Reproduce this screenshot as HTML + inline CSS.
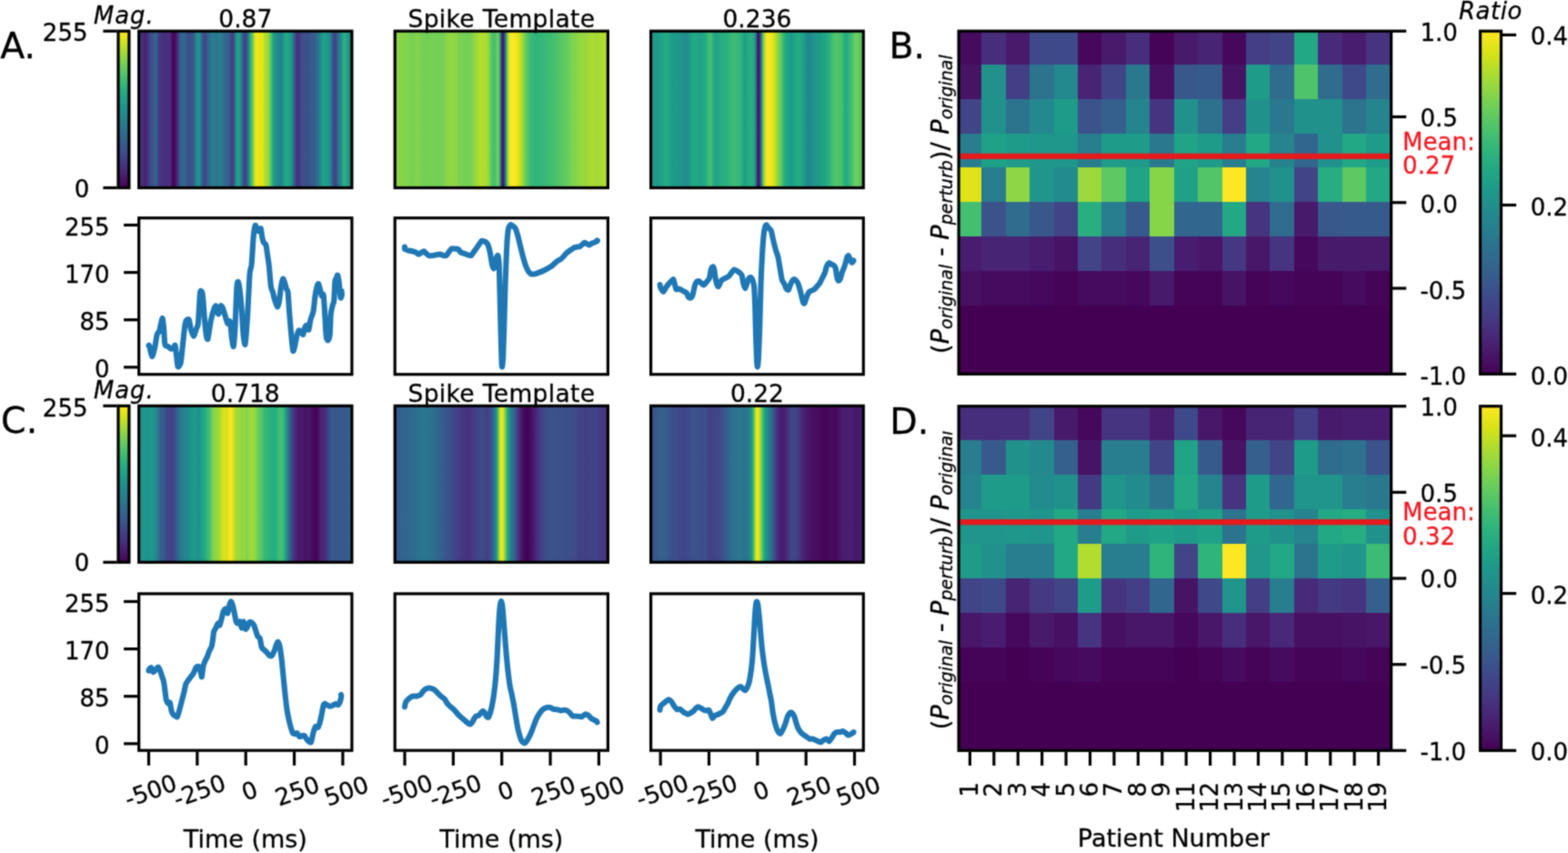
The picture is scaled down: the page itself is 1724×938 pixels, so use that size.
<!DOCTYPE html>
<html lang="en">
<head>
<meta charset="utf-8">
<title>Spike template perturbation figure</title>
<style>
html,body{margin:0;padding:0;background:#fff;}
body{width:1724px;height:938px;overflow:hidden;}
svg{display:block;}
svg text{font-family:'DejaVu Sans', 'Liberation Sans', sans-serif;fill:#000;stroke:#000;stroke-width:0.3px;stroke-linejoin:round;}
</style>
</head>
<body>
<svg width="1724" height="938" viewBox="0 0 1724 938">
<defs>
<linearGradient id="vir" x1="0" y1="1" x2="0" y2="0"><stop offset="0%" stop-color="#440154"/><stop offset="3.12%" stop-color="#470d60"/><stop offset="6.25%" stop-color="#48186a"/><stop offset="9.38%" stop-color="#482374"/><stop offset="12.5%" stop-color="#472d7b"/><stop offset="15.62%" stop-color="#453781"/><stop offset="18.75%" stop-color="#424086"/><stop offset="21.88%" stop-color="#3e4989"/><stop offset="25%" stop-color="#3b528b"/><stop offset="28.12%" stop-color="#375b8d"/><stop offset="31.25%" stop-color="#33638d"/><stop offset="34.38%" stop-color="#2f6b8e"/><stop offset="37.5%" stop-color="#2c728e"/><stop offset="40.62%" stop-color="#297a8e"/><stop offset="43.75%" stop-color="#26828e"/><stop offset="46.88%" stop-color="#23898e"/><stop offset="50%" stop-color="#21918c"/><stop offset="53.12%" stop-color="#1f988b"/><stop offset="56.25%" stop-color="#1fa088"/><stop offset="59.38%" stop-color="#22a785"/><stop offset="62.5%" stop-color="#28ae80"/><stop offset="65.62%" stop-color="#32b67a"/><stop offset="68.75%" stop-color="#3fbc73"/><stop offset="71.88%" stop-color="#4ec36b"/><stop offset="75%" stop-color="#5ec962"/><stop offset="78.12%" stop-color="#70cf57"/><stop offset="81.25%" stop-color="#84d44b"/><stop offset="84.38%" stop-color="#98d83e"/><stop offset="87.5%" stop-color="#addc30"/><stop offset="90.62%" stop-color="#c2df23"/><stop offset="93.75%" stop-color="#d8e219"/><stop offset="96.88%" stop-color="#ece51b"/><stop offset="100%" stop-color="#fde725"/></linearGradient>
<filter id="soft" filterUnits="userSpaceOnUse" x="-20" y="-20" width="1764" height="978" color-interpolation-filters="sRGB"><feConvolveMatrix order="3" kernelMatrix="40 120 40 120 360 120 40 120 40" divisor="1000" edgeMode="duplicate" preserveAlpha="true"/></filter>
<linearGradient id="gA1" x1="0" y1="0" x2="1" y2="0"><stop offset="0%" stop-color="#453581"/><stop offset="0.84%" stop-color="#463480"/><stop offset="1.68%" stop-color="#472f7d"/><stop offset="2.52%" stop-color="#482173"/><stop offset="3.36%" stop-color="#482475"/><stop offset="4.2%" stop-color="#46327e"/><stop offset="5.04%" stop-color="#404688"/><stop offset="5.88%" stop-color="#3c508b"/><stop offset="6.72%" stop-color="#39568c"/><stop offset="7.56%" stop-color="#32658e"/><stop offset="8.4%" stop-color="#34618d"/><stop offset="9.24%" stop-color="#433d84"/><stop offset="10.08%" stop-color="#453581"/><stop offset="10.92%" stop-color="#46337f"/><stop offset="11.76%" stop-color="#472f7d"/><stop offset="12.61%" stop-color="#472e7c"/><stop offset="13.45%" stop-color="#472f7d"/><stop offset="14.29%" stop-color="#463480"/><stop offset="15.13%" stop-color="#482071"/><stop offset="15.97%" stop-color="#450457"/><stop offset="16.81%" stop-color="#46085c"/><stop offset="17.65%" stop-color="#481b6d"/><stop offset="18.49%" stop-color="#443b84"/><stop offset="19.33%" stop-color="#375a8c"/><stop offset="20.17%" stop-color="#31668e"/><stop offset="21.01%" stop-color="#31678e"/><stop offset="21.85%" stop-color="#33628d"/><stop offset="22.69%" stop-color="#3a548c"/><stop offset="23.53%" stop-color="#3e4c8a"/><stop offset="24.37%" stop-color="#3d4e8a"/><stop offset="25.21%" stop-color="#39568c"/><stop offset="26.05%" stop-color="#34608d"/><stop offset="26.89%" stop-color="#23888e"/><stop offset="27.73%" stop-color="#1f988b"/><stop offset="28.57%" stop-color="#218e8d"/><stop offset="29.41%" stop-color="#306a8e"/><stop offset="30.25%" stop-color="#3d4d8a"/><stop offset="31.09%" stop-color="#404588"/><stop offset="31.93%" stop-color="#39568c"/><stop offset="32.77%" stop-color="#30698e"/><stop offset="33.61%" stop-color="#2c738e"/><stop offset="34.45%" stop-color="#297b8e"/><stop offset="35.29%" stop-color="#277f8e"/><stop offset="36.13%" stop-color="#2b758e"/><stop offset="36.97%" stop-color="#2a778e"/><stop offset="37.82%" stop-color="#277f8e"/><stop offset="38.66%" stop-color="#297b8e"/><stop offset="39.5%" stop-color="#2c738e"/><stop offset="40.34%" stop-color="#306a8e"/><stop offset="41.18%" stop-color="#33628d"/><stop offset="42.02%" stop-color="#32648e"/><stop offset="42.86%" stop-color="#3a538b"/><stop offset="43.7%" stop-color="#443b84"/><stop offset="44.54%" stop-color="#3f4889"/><stop offset="45.38%" stop-color="#26818e"/><stop offset="46.22%" stop-color="#20a486"/><stop offset="47.06%" stop-color="#1fa088"/><stop offset="47.9%" stop-color="#24868e"/><stop offset="48.74%" stop-color="#355f8d"/><stop offset="49.58%" stop-color="#424086"/><stop offset="50.42%" stop-color="#3e4989"/><stop offset="51.26%" stop-color="#2c738e"/><stop offset="52.1%" stop-color="#22a785"/><stop offset="52.94%" stop-color="#44bf70"/><stop offset="53.78%" stop-color="#8ed645"/><stop offset="54.62%" stop-color="#e2e418"/><stop offset="55.46%" stop-color="#f6e620"/><stop offset="56.3%" stop-color="#eae51a"/><stop offset="57.14%" stop-color="#e5e419"/><stop offset="57.98%" stop-color="#ece51b"/><stop offset="58.82%" stop-color="#c0df25"/><stop offset="59.66%" stop-color="#aadc32"/><stop offset="60.5%" stop-color="#a0da39"/><stop offset="61.34%" stop-color="#73d056"/><stop offset="62.18%" stop-color="#46c06f"/><stop offset="63.03%" stop-color="#20a386"/><stop offset="63.87%" stop-color="#1f988b"/><stop offset="64.71%" stop-color="#218e8d"/><stop offset="65.55%" stop-color="#25858e"/><stop offset="66.39%" stop-color="#277f8e"/><stop offset="67.23%" stop-color="#24878e"/><stop offset="68.07%" stop-color="#1e9c89"/><stop offset="68.91%" stop-color="#24aa83"/><stop offset="69.75%" stop-color="#23a983"/><stop offset="70.59%" stop-color="#1fa188"/><stop offset="71.43%" stop-color="#1f998a"/><stop offset="72.27%" stop-color="#287c8e"/><stop offset="73.11%" stop-color="#38588c"/><stop offset="73.95%" stop-color="#453781"/><stop offset="74.79%" stop-color="#472f7d"/><stop offset="75.63%" stop-color="#433e85"/><stop offset="76.47%" stop-color="#3e4c8a"/><stop offset="77.31%" stop-color="#3a538b"/><stop offset="78.15%" stop-color="#3b528b"/><stop offset="78.99%" stop-color="#3c4f8a"/><stop offset="79.83%" stop-color="#3b528b"/><stop offset="80.67%" stop-color="#365c8d"/><stop offset="81.51%" stop-color="#365c8d"/><stop offset="82.35%" stop-color="#38588c"/><stop offset="83.19%" stop-color="#31688e"/><stop offset="84.03%" stop-color="#2d718e"/><stop offset="84.87%" stop-color="#277f8e"/><stop offset="85.71%" stop-color="#1f948c"/><stop offset="86.55%" stop-color="#1fa188"/><stop offset="87.39%" stop-color="#1fa287"/><stop offset="88.24%" stop-color="#1f998a"/><stop offset="89.08%" stop-color="#20928c"/><stop offset="89.92%" stop-color="#23898e"/><stop offset="90.76%" stop-color="#355f8d"/><stop offset="91.6%" stop-color="#414487"/><stop offset="92.44%" stop-color="#404588"/><stop offset="93.28%" stop-color="#32648e"/><stop offset="94.12%" stop-color="#287d8e"/><stop offset="94.96%" stop-color="#24868e"/><stop offset="95.8%" stop-color="#25ab82"/><stop offset="96.64%" stop-color="#2cb17e"/><stop offset="97.48%" stop-color="#24aa83"/><stop offset="98.32%" stop-color="#20928c"/><stop offset="99.16%" stop-color="#20938c"/><stop offset="100%" stop-color="#1f988b"/></linearGradient>
<linearGradient id="gA2" x1="0" y1="0" x2="1" y2="0"><stop offset="0%" stop-color="#98d83e"/><stop offset="0.84%" stop-color="#90d743"/><stop offset="1.68%" stop-color="#8bd646"/><stop offset="2.52%" stop-color="#89d548"/><stop offset="3.36%" stop-color="#86d549"/><stop offset="4.2%" stop-color="#86d549"/><stop offset="5.04%" stop-color="#84d44b"/><stop offset="5.88%" stop-color="#81d34d"/><stop offset="6.72%" stop-color="#7fd34e"/><stop offset="7.56%" stop-color="#7ad151"/><stop offset="8.4%" stop-color="#77d153"/><stop offset="9.24%" stop-color="#7cd250"/><stop offset="10.08%" stop-color="#81d34d"/><stop offset="10.92%" stop-color="#84d44b"/><stop offset="11.76%" stop-color="#7cd250"/><stop offset="12.61%" stop-color="#77d153"/><stop offset="13.45%" stop-color="#73d056"/><stop offset="14.29%" stop-color="#73d056"/><stop offset="15.13%" stop-color="#73d056"/><stop offset="15.97%" stop-color="#73d056"/><stop offset="16.81%" stop-color="#75d054"/><stop offset="17.65%" stop-color="#75d054"/><stop offset="18.49%" stop-color="#77d153"/><stop offset="19.33%" stop-color="#75d054"/><stop offset="20.17%" stop-color="#73d056"/><stop offset="21.01%" stop-color="#73d056"/><stop offset="21.85%" stop-color="#73d056"/><stop offset="22.69%" stop-color="#77d153"/><stop offset="23.53%" stop-color="#81d34d"/><stop offset="24.37%" stop-color="#8bd646"/><stop offset="25.21%" stop-color="#90d743"/><stop offset="26.05%" stop-color="#90d743"/><stop offset="26.89%" stop-color="#90d743"/><stop offset="27.73%" stop-color="#8ed645"/><stop offset="28.57%" stop-color="#8bd646"/><stop offset="29.41%" stop-color="#81d34d"/><stop offset="30.25%" stop-color="#7cd250"/><stop offset="31.09%" stop-color="#7cd250"/><stop offset="31.93%" stop-color="#77d153"/><stop offset="32.77%" stop-color="#75d054"/><stop offset="33.61%" stop-color="#73d056"/><stop offset="34.45%" stop-color="#73d056"/><stop offset="35.29%" stop-color="#75d054"/><stop offset="36.13%" stop-color="#81d34d"/><stop offset="36.97%" stop-color="#8bd646"/><stop offset="37.82%" stop-color="#95d840"/><stop offset="38.66%" stop-color="#a0da39"/><stop offset="39.5%" stop-color="#aadc32"/><stop offset="40.34%" stop-color="#b5de2b"/><stop offset="41.18%" stop-color="#b2dd2d"/><stop offset="42.02%" stop-color="#b0dd2f"/><stop offset="42.86%" stop-color="#aadc32"/><stop offset="43.7%" stop-color="#9bd93c"/><stop offset="44.54%" stop-color="#7cd250"/><stop offset="45.38%" stop-color="#54c568"/><stop offset="46.22%" stop-color="#44bf70"/><stop offset="47.06%" stop-color="#48c16e"/><stop offset="47.9%" stop-color="#69cd5b"/><stop offset="48.74%" stop-color="#63cb5f"/><stop offset="49.58%" stop-color="#25848e"/><stop offset="50.42%" stop-color="#460b5e"/><stop offset="51.26%" stop-color="#472e7c"/><stop offset="52.1%" stop-color="#1f958b"/><stop offset="52.94%" stop-color="#8bd646"/><stop offset="53.78%" stop-color="#eae51a"/><stop offset="54.62%" stop-color="#fde725"/><stop offset="55.46%" stop-color="#fde725"/><stop offset="56.3%" stop-color="#f8e621"/><stop offset="57.14%" stop-color="#f1e51d"/><stop offset="57.98%" stop-color="#dfe318"/><stop offset="58.82%" stop-color="#c5e021"/><stop offset="59.66%" stop-color="#a5db36"/><stop offset="60.5%" stop-color="#86d549"/><stop offset="61.34%" stop-color="#69cd5b"/><stop offset="62.18%" stop-color="#54c568"/><stop offset="63.03%" stop-color="#44bf70"/><stop offset="63.87%" stop-color="#3aba76"/><stop offset="64.71%" stop-color="#34b679"/><stop offset="65.55%" stop-color="#31b57b"/><stop offset="66.39%" stop-color="#31b57b"/><stop offset="67.23%" stop-color="#31b57b"/><stop offset="68.07%" stop-color="#32b67a"/><stop offset="68.91%" stop-color="#34b679"/><stop offset="69.75%" stop-color="#37b878"/><stop offset="70.59%" stop-color="#38b977"/><stop offset="71.43%" stop-color="#3aba76"/><stop offset="72.27%" stop-color="#3dbc74"/><stop offset="73.11%" stop-color="#3fbc73"/><stop offset="73.95%" stop-color="#42be71"/><stop offset="74.79%" stop-color="#44bf70"/><stop offset="75.63%" stop-color="#48c16e"/><stop offset="76.47%" stop-color="#4ec36b"/><stop offset="77.31%" stop-color="#54c568"/><stop offset="78.15%" stop-color="#58c765"/><stop offset="78.99%" stop-color="#5cc863"/><stop offset="79.83%" stop-color="#60ca60"/><stop offset="80.67%" stop-color="#65cb5e"/><stop offset="81.51%" stop-color="#6ccd5a"/><stop offset="82.35%" stop-color="#73d056"/><stop offset="83.19%" stop-color="#7cd250"/><stop offset="84.03%" stop-color="#81d34d"/><stop offset="84.87%" stop-color="#86d549"/><stop offset="85.71%" stop-color="#8bd646"/><stop offset="86.55%" stop-color="#90d743"/><stop offset="87.39%" stop-color="#95d840"/><stop offset="88.24%" stop-color="#98d83e"/><stop offset="89.08%" stop-color="#98d83e"/><stop offset="89.92%" stop-color="#9bd93c"/><stop offset="90.76%" stop-color="#a0da39"/><stop offset="91.6%" stop-color="#a5db36"/><stop offset="92.44%" stop-color="#addc30"/><stop offset="93.28%" stop-color="#a8db34"/><stop offset="94.12%" stop-color="#a5db36"/><stop offset="94.96%" stop-color="#a2da37"/><stop offset="95.8%" stop-color="#a8db34"/><stop offset="96.64%" stop-color="#aadc32"/><stop offset="97.48%" stop-color="#addc30"/><stop offset="98.32%" stop-color="#b2dd2d"/><stop offset="99.16%" stop-color="#b5de2b"/><stop offset="100%" stop-color="#b8de29"/></linearGradient>
<linearGradient id="gA3" x1="0" y1="0" x2="1" y2="0"><stop offset="0%" stop-color="#20a386"/><stop offset="0.84%" stop-color="#1fa188"/><stop offset="1.68%" stop-color="#1f9e89"/><stop offset="2.52%" stop-color="#1f998a"/><stop offset="3.36%" stop-color="#1e9b8a"/><stop offset="4.2%" stop-color="#1f9f88"/><stop offset="5.04%" stop-color="#1fa287"/><stop offset="5.88%" stop-color="#21a685"/><stop offset="6.72%" stop-color="#23a983"/><stop offset="7.56%" stop-color="#25ab82"/><stop offset="8.4%" stop-color="#22a785"/><stop offset="9.24%" stop-color="#1e9d89"/><stop offset="10.08%" stop-color="#1e9c89"/><stop offset="10.92%" stop-color="#1e9c89"/><stop offset="11.76%" stop-color="#1e9b8a"/><stop offset="12.61%" stop-color="#1f998a"/><stop offset="13.45%" stop-color="#1f988b"/><stop offset="14.29%" stop-color="#1f968b"/><stop offset="15.13%" stop-color="#20928c"/><stop offset="15.97%" stop-color="#218e8d"/><stop offset="16.81%" stop-color="#228d8d"/><stop offset="17.65%" stop-color="#20928c"/><stop offset="18.49%" stop-color="#1f9e89"/><stop offset="19.33%" stop-color="#21a585"/><stop offset="20.17%" stop-color="#23a983"/><stop offset="21.01%" stop-color="#23a983"/><stop offset="21.85%" stop-color="#22a785"/><stop offset="22.69%" stop-color="#20a486"/><stop offset="23.53%" stop-color="#20a386"/><stop offset="24.37%" stop-color="#21a685"/><stop offset="25.21%" stop-color="#24aa83"/><stop offset="26.05%" stop-color="#27ad81"/><stop offset="26.89%" stop-color="#3aba76"/><stop offset="27.73%" stop-color="#44bf70"/><stop offset="28.57%" stop-color="#3fbc73"/><stop offset="29.41%" stop-color="#26ad81"/><stop offset="30.25%" stop-color="#20a386"/><stop offset="31.09%" stop-color="#20a386"/><stop offset="31.93%" stop-color="#22a884"/><stop offset="32.77%" stop-color="#25ac82"/><stop offset="33.61%" stop-color="#27ad81"/><stop offset="34.45%" stop-color="#28ae80"/><stop offset="35.29%" stop-color="#2ab07f"/><stop offset="36.13%" stop-color="#2db27d"/><stop offset="36.97%" stop-color="#32b67a"/><stop offset="37.82%" stop-color="#37b878"/><stop offset="38.66%" stop-color="#3dbc74"/><stop offset="39.5%" stop-color="#3bbb75"/><stop offset="40.34%" stop-color="#3aba76"/><stop offset="41.18%" stop-color="#37b878"/><stop offset="42.02%" stop-color="#32b67a"/><stop offset="42.86%" stop-color="#2ab07f"/><stop offset="43.7%" stop-color="#20a386"/><stop offset="44.54%" stop-color="#1f9f88"/><stop offset="45.38%" stop-color="#22a785"/><stop offset="46.22%" stop-color="#27ad81"/><stop offset="47.06%" stop-color="#29af7f"/><stop offset="47.9%" stop-color="#26ad81"/><stop offset="48.74%" stop-color="#1fa287"/><stop offset="49.58%" stop-color="#32658e"/><stop offset="50.42%" stop-color="#460a5d"/><stop offset="51.26%" stop-color="#472c7a"/><stop offset="52.1%" stop-color="#228b8d"/><stop offset="52.94%" stop-color="#69cd5b"/><stop offset="53.78%" stop-color="#d0e11c"/><stop offset="54.62%" stop-color="#f8e621"/><stop offset="55.46%" stop-color="#fbe723"/><stop offset="56.3%" stop-color="#f1e51d"/><stop offset="57.14%" stop-color="#eae51a"/><stop offset="57.98%" stop-color="#d2e21b"/><stop offset="58.82%" stop-color="#b0dd2f"/><stop offset="59.66%" stop-color="#90d743"/><stop offset="60.5%" stop-color="#7ad151"/><stop offset="61.34%" stop-color="#5cc863"/><stop offset="62.18%" stop-color="#3bbb75"/><stop offset="63.03%" stop-color="#26ad81"/><stop offset="63.87%" stop-color="#22a785"/><stop offset="64.71%" stop-color="#1fa188"/><stop offset="65.55%" stop-color="#1e9d89"/><stop offset="66.39%" stop-color="#1e9b8a"/><stop offset="67.23%" stop-color="#1fa287"/><stop offset="68.07%" stop-color="#22a884"/><stop offset="68.91%" stop-color="#25ac82"/><stop offset="69.75%" stop-color="#25ac82"/><stop offset="70.59%" stop-color="#22a884"/><stop offset="71.43%" stop-color="#1fa287"/><stop offset="72.27%" stop-color="#1f998a"/><stop offset="73.11%" stop-color="#218e8d"/><stop offset="73.95%" stop-color="#25848e"/><stop offset="74.79%" stop-color="#24878e"/><stop offset="75.63%" stop-color="#218f8d"/><stop offset="76.47%" stop-color="#1f958b"/><stop offset="77.31%" stop-color="#1f988b"/><stop offset="78.15%" stop-color="#1f9a8a"/><stop offset="78.99%" stop-color="#1e9b8a"/><stop offset="79.83%" stop-color="#1e9d89"/><stop offset="80.67%" stop-color="#1fa188"/><stop offset="81.51%" stop-color="#20a386"/><stop offset="82.35%" stop-color="#22a785"/><stop offset="83.19%" stop-color="#26ad81"/><stop offset="84.03%" stop-color="#2db27d"/><stop offset="84.87%" stop-color="#37b878"/><stop offset="85.71%" stop-color="#48c16e"/><stop offset="86.55%" stop-color="#50c46a"/><stop offset="87.39%" stop-color="#52c569"/><stop offset="88.24%" stop-color="#4ec36b"/><stop offset="89.08%" stop-color="#4cc26c"/><stop offset="89.92%" stop-color="#44bf70"/><stop offset="90.76%" stop-color="#2eb37c"/><stop offset="91.6%" stop-color="#25ab82"/><stop offset="92.44%" stop-color="#26ad81"/><stop offset="93.28%" stop-color="#31b57b"/><stop offset="94.12%" stop-color="#3fbc73"/><stop offset="94.96%" stop-color="#4ec36b"/><stop offset="95.8%" stop-color="#65cb5e"/><stop offset="96.64%" stop-color="#70cf57"/><stop offset="97.48%" stop-color="#65cb5e"/><stop offset="98.32%" stop-color="#58c765"/><stop offset="99.16%" stop-color="#5cc863"/><stop offset="100%" stop-color="#5ec962"/></linearGradient>
<linearGradient id="gC1" x1="0" y1="0" x2="1" y2="0"><stop offset="0%" stop-color="#20938c"/><stop offset="0.84%" stop-color="#1f948c"/><stop offset="1.68%" stop-color="#1f978b"/><stop offset="2.52%" stop-color="#1f978b"/><stop offset="3.36%" stop-color="#20928c"/><stop offset="4.2%" stop-color="#20938c"/><stop offset="5.04%" stop-color="#1f968b"/><stop offset="5.88%" stop-color="#1f998a"/><stop offset="6.72%" stop-color="#1f948c"/><stop offset="7.56%" stop-color="#228d8d"/><stop offset="8.4%" stop-color="#25848e"/><stop offset="9.24%" stop-color="#2b748e"/><stop offset="10.08%" stop-color="#34618d"/><stop offset="10.92%" stop-color="#375b8d"/><stop offset="11.76%" stop-color="#365c8d"/><stop offset="12.61%" stop-color="#3d4e8a"/><stop offset="13.45%" stop-color="#404688"/><stop offset="14.29%" stop-color="#414287"/><stop offset="15.13%" stop-color="#424186"/><stop offset="15.97%" stop-color="#414487"/><stop offset="16.81%" stop-color="#3c4f8a"/><stop offset="17.65%" stop-color="#365c8d"/><stop offset="18.49%" stop-color="#31678e"/><stop offset="19.33%" stop-color="#2c738e"/><stop offset="20.17%" stop-color="#277e8e"/><stop offset="21.01%" stop-color="#26828e"/><stop offset="21.85%" stop-color="#24868e"/><stop offset="22.69%" stop-color="#238a8d"/><stop offset="23.53%" stop-color="#218e8d"/><stop offset="24.37%" stop-color="#20928c"/><stop offset="25.21%" stop-color="#1f998a"/><stop offset="26.05%" stop-color="#1f9a8a"/><stop offset="26.89%" stop-color="#1f988b"/><stop offset="27.73%" stop-color="#218e8d"/><stop offset="28.57%" stop-color="#1f958b"/><stop offset="29.41%" stop-color="#1fa188"/><stop offset="30.25%" stop-color="#22a785"/><stop offset="31.09%" stop-color="#26ad81"/><stop offset="31.93%" stop-color="#31b57b"/><stop offset="32.77%" stop-color="#3aba76"/><stop offset="33.61%" stop-color="#50c46a"/><stop offset="34.45%" stop-color="#77d153"/><stop offset="35.29%" stop-color="#84d44b"/><stop offset="36.13%" stop-color="#95d840"/><stop offset="36.97%" stop-color="#93d741"/><stop offset="37.82%" stop-color="#a2da37"/><stop offset="38.66%" stop-color="#c2df23"/><stop offset="39.5%" stop-color="#d5e21a"/><stop offset="40.34%" stop-color="#dde318"/><stop offset="41.18%" stop-color="#cde11d"/><stop offset="42.02%" stop-color="#eae51a"/><stop offset="42.86%" stop-color="#fde725"/><stop offset="43.7%" stop-color="#f1e51d"/><stop offset="44.54%" stop-color="#d0e11c"/><stop offset="45.38%" stop-color="#aadc32"/><stop offset="46.22%" stop-color="#9bd93c"/><stop offset="47.06%" stop-color="#9dd93b"/><stop offset="47.9%" stop-color="#95d840"/><stop offset="48.74%" stop-color="#8bd646"/><stop offset="49.58%" stop-color="#9bd93c"/><stop offset="50.42%" stop-color="#7fd34e"/><stop offset="51.26%" stop-color="#89d548"/><stop offset="52.1%" stop-color="#9bd93c"/><stop offset="52.94%" stop-color="#9dd93b"/><stop offset="53.78%" stop-color="#98d83e"/><stop offset="54.62%" stop-color="#90d743"/><stop offset="55.46%" stop-color="#7ad151"/><stop offset="56.3%" stop-color="#65cb5e"/><stop offset="57.14%" stop-color="#5cc863"/><stop offset="57.98%" stop-color="#4cc26c"/><stop offset="58.82%" stop-color="#38b977"/><stop offset="59.66%" stop-color="#34b679"/><stop offset="60.5%" stop-color="#2fb47c"/><stop offset="61.34%" stop-color="#2cb17e"/><stop offset="62.18%" stop-color="#28ae80"/><stop offset="63.03%" stop-color="#26ad81"/><stop offset="63.87%" stop-color="#27ad81"/><stop offset="64.71%" stop-color="#2eb37c"/><stop offset="65.55%" stop-color="#3aba76"/><stop offset="66.39%" stop-color="#46c06f"/><stop offset="67.23%" stop-color="#44bf70"/><stop offset="68.07%" stop-color="#31b57b"/><stop offset="68.91%" stop-color="#1fa088"/><stop offset="69.75%" stop-color="#25838e"/><stop offset="70.59%" stop-color="#31688e"/><stop offset="71.43%" stop-color="#3c4f8a"/><stop offset="72.27%" stop-color="#433d84"/><stop offset="73.11%" stop-color="#472e7c"/><stop offset="73.95%" stop-color="#482173"/><stop offset="74.79%" stop-color="#481b6d"/><stop offset="75.63%" stop-color="#481a6c"/><stop offset="76.47%" stop-color="#481b6d"/><stop offset="77.31%" stop-color="#481769"/><stop offset="78.15%" stop-color="#471365"/><stop offset="78.99%" stop-color="#481467"/><stop offset="79.83%" stop-color="#481668"/><stop offset="80.67%" stop-color="#471365"/><stop offset="81.51%" stop-color="#460b5e"/><stop offset="82.35%" stop-color="#46075a"/><stop offset="83.19%" stop-color="#450457"/><stop offset="84.03%" stop-color="#460b5e"/><stop offset="84.87%" stop-color="#481d6f"/><stop offset="85.71%" stop-color="#482878"/><stop offset="86.55%" stop-color="#482979"/><stop offset="87.39%" stop-color="#472c7a"/><stop offset="88.24%" stop-color="#453581"/><stop offset="89.08%" stop-color="#404688"/><stop offset="89.92%" stop-color="#39558c"/><stop offset="90.76%" stop-color="#375b8d"/><stop offset="91.6%" stop-color="#38598c"/><stop offset="92.44%" stop-color="#39568c"/><stop offset="93.28%" stop-color="#39558c"/><stop offset="94.12%" stop-color="#39568c"/><stop offset="94.96%" stop-color="#38588c"/><stop offset="95.8%" stop-color="#375a8c"/><stop offset="96.64%" stop-color="#38598c"/><stop offset="97.48%" stop-color="#38588c"/><stop offset="98.32%" stop-color="#355e8d"/><stop offset="99.16%" stop-color="#31688e"/><stop offset="100%" stop-color="#2f6b8e"/></linearGradient>
<linearGradient id="gC2" x1="0" y1="0" x2="1" y2="0"><stop offset="0%" stop-color="#3a548c"/><stop offset="0.84%" stop-color="#38598c"/><stop offset="1.68%" stop-color="#365d8d"/><stop offset="2.52%" stop-color="#34618d"/><stop offset="3.36%" stop-color="#32648e"/><stop offset="4.2%" stop-color="#31668e"/><stop offset="5.04%" stop-color="#31678e"/><stop offset="5.88%" stop-color="#31688e"/><stop offset="6.72%" stop-color="#31688e"/><stop offset="7.56%" stop-color="#31688e"/><stop offset="8.4%" stop-color="#306a8e"/><stop offset="9.24%" stop-color="#2f6b8e"/><stop offset="10.08%" stop-color="#2e6f8e"/><stop offset="10.92%" stop-color="#2c718e"/><stop offset="11.76%" stop-color="#2b748e"/><stop offset="12.61%" stop-color="#2b758e"/><stop offset="13.45%" stop-color="#2a768e"/><stop offset="14.29%" stop-color="#2b758e"/><stop offset="15.13%" stop-color="#2b748e"/><stop offset="15.97%" stop-color="#2c738e"/><stop offset="16.81%" stop-color="#2c718e"/><stop offset="17.65%" stop-color="#2e6f8e"/><stop offset="18.49%" stop-color="#2f6c8e"/><stop offset="19.33%" stop-color="#30698e"/><stop offset="20.17%" stop-color="#31668e"/><stop offset="21.01%" stop-color="#32648e"/><stop offset="21.85%" stop-color="#34608d"/><stop offset="22.69%" stop-color="#375b8d"/><stop offset="23.53%" stop-color="#38588c"/><stop offset="24.37%" stop-color="#3a548c"/><stop offset="25.21%" stop-color="#3b528b"/><stop offset="26.05%" stop-color="#3c4f8a"/><stop offset="26.89%" stop-color="#3e4c8a"/><stop offset="27.73%" stop-color="#3f4788"/><stop offset="28.57%" stop-color="#414487"/><stop offset="29.41%" stop-color="#424086"/><stop offset="30.25%" stop-color="#433d84"/><stop offset="31.09%" stop-color="#443a83"/><stop offset="31.93%" stop-color="#453781"/><stop offset="32.77%" stop-color="#463480"/><stop offset="33.61%" stop-color="#46327e"/><stop offset="34.45%" stop-color="#46307e"/><stop offset="35.29%" stop-color="#463480"/><stop offset="36.13%" stop-color="#443a83"/><stop offset="36.97%" stop-color="#423f85"/><stop offset="37.82%" stop-color="#414287"/><stop offset="38.66%" stop-color="#414287"/><stop offset="39.5%" stop-color="#3f4788"/><stop offset="40.34%" stop-color="#3e4a89"/><stop offset="41.18%" stop-color="#3e4a89"/><stop offset="42.02%" stop-color="#404688"/><stop offset="42.86%" stop-color="#424086"/><stop offset="43.7%" stop-color="#424086"/><stop offset="44.54%" stop-color="#3f4889"/><stop offset="45.38%" stop-color="#39558c"/><stop offset="46.22%" stop-color="#31678e"/><stop offset="47.06%" stop-color="#277e8e"/><stop offset="47.9%" stop-color="#1fa187"/><stop offset="48.74%" stop-color="#7ad151"/><stop offset="49.58%" stop-color="#e7e419"/><stop offset="50.42%" stop-color="#f6e620"/><stop offset="51.26%" stop-color="#b2dd2d"/><stop offset="52.1%" stop-color="#58c765"/><stop offset="52.94%" stop-color="#22a884"/><stop offset="53.78%" stop-color="#218e8d"/><stop offset="54.62%" stop-color="#29798e"/><stop offset="55.46%" stop-color="#2f6c8e"/><stop offset="56.3%" stop-color="#355e8d"/><stop offset="57.14%" stop-color="#3e4a89"/><stop offset="57.98%" stop-color="#453581"/><stop offset="58.82%" stop-color="#482374"/><stop offset="59.66%" stop-color="#481467"/><stop offset="60.5%" stop-color="#460a5d"/><stop offset="61.34%" stop-color="#450457"/><stop offset="62.18%" stop-color="#440256"/><stop offset="63.03%" stop-color="#46075a"/><stop offset="63.87%" stop-color="#470e61"/><stop offset="64.71%" stop-color="#481769"/><stop offset="65.55%" stop-color="#481f70"/><stop offset="66.39%" stop-color="#482979"/><stop offset="67.23%" stop-color="#46337f"/><stop offset="68.07%" stop-color="#443b84"/><stop offset="68.91%" stop-color="#414287"/><stop offset="69.75%" stop-color="#3f4788"/><stop offset="70.59%" stop-color="#3e4c8a"/><stop offset="71.43%" stop-color="#3c4f8a"/><stop offset="72.27%" stop-color="#3b518b"/><stop offset="73.11%" stop-color="#3b528b"/><stop offset="73.95%" stop-color="#3a538b"/><stop offset="74.79%" stop-color="#3a538b"/><stop offset="75.63%" stop-color="#3b528b"/><stop offset="76.47%" stop-color="#3c508b"/><stop offset="77.31%" stop-color="#3c508b"/><stop offset="78.15%" stop-color="#3c4f8a"/><stop offset="78.99%" stop-color="#3c4f8a"/><stop offset="79.83%" stop-color="#3d4e8a"/><stop offset="80.67%" stop-color="#3d4d8a"/><stop offset="81.51%" stop-color="#3d4e8a"/><stop offset="82.35%" stop-color="#3d4e8a"/><stop offset="83.19%" stop-color="#3d4d8a"/><stop offset="84.03%" stop-color="#3e4c8a"/><stop offset="84.87%" stop-color="#3e4989"/><stop offset="85.71%" stop-color="#404588"/><stop offset="86.55%" stop-color="#424186"/><stop offset="87.39%" stop-color="#424186"/><stop offset="88.24%" stop-color="#424186"/><stop offset="89.08%" stop-color="#424186"/><stop offset="89.92%" stop-color="#424086"/><stop offset="90.76%" stop-color="#424086"/><stop offset="91.6%" stop-color="#424186"/><stop offset="92.44%" stop-color="#414487"/><stop offset="93.28%" stop-color="#404588"/><stop offset="94.12%" stop-color="#414487"/><stop offset="94.96%" stop-color="#424186"/><stop offset="95.8%" stop-color="#433d84"/><stop offset="96.64%" stop-color="#443b84"/><stop offset="97.48%" stop-color="#443983"/><stop offset="98.32%" stop-color="#453882"/><stop offset="99.16%" stop-color="#453581"/><stop offset="100%" stop-color="#463480"/></linearGradient>
<linearGradient id="gC3" x1="0" y1="0" x2="1" y2="0"><stop offset="0%" stop-color="#3d4e8a"/><stop offset="0.84%" stop-color="#3b528b"/><stop offset="1.68%" stop-color="#39568c"/><stop offset="2.52%" stop-color="#375a8c"/><stop offset="3.36%" stop-color="#365c8d"/><stop offset="4.2%" stop-color="#355f8d"/><stop offset="5.04%" stop-color="#34618d"/><stop offset="5.88%" stop-color="#34618d"/><stop offset="6.72%" stop-color="#355f8d"/><stop offset="7.56%" stop-color="#375b8d"/><stop offset="8.4%" stop-color="#39558c"/><stop offset="9.24%" stop-color="#3b518b"/><stop offset="10.08%" stop-color="#3c4f8a"/><stop offset="10.92%" stop-color="#3c508b"/><stop offset="11.76%" stop-color="#3d4e8a"/><stop offset="12.61%" stop-color="#3e4c8a"/><stop offset="13.45%" stop-color="#3e4989"/><stop offset="14.29%" stop-color="#3f4788"/><stop offset="15.13%" stop-color="#404688"/><stop offset="15.97%" stop-color="#3f4788"/><stop offset="16.81%" stop-color="#3f4889"/><stop offset="17.65%" stop-color="#3e4a89"/><stop offset="18.49%" stop-color="#3d4e8a"/><stop offset="19.33%" stop-color="#3b528b"/><stop offset="20.17%" stop-color="#3a538b"/><stop offset="21.01%" stop-color="#3a538b"/><stop offset="21.85%" stop-color="#3b528b"/><stop offset="22.69%" stop-color="#3c508b"/><stop offset="23.53%" stop-color="#3d4e8a"/><stop offset="24.37%" stop-color="#3d4d8a"/><stop offset="25.21%" stop-color="#3d4e8a"/><stop offset="26.05%" stop-color="#3d4d8a"/><stop offset="26.89%" stop-color="#404588"/><stop offset="27.73%" stop-color="#433e85"/><stop offset="28.57%" stop-color="#424186"/><stop offset="29.41%" stop-color="#414487"/><stop offset="30.25%" stop-color="#404588"/><stop offset="31.09%" stop-color="#404688"/><stop offset="31.93%" stop-color="#3f4889"/><stop offset="32.77%" stop-color="#3e4a89"/><stop offset="33.61%" stop-color="#3c4f8a"/><stop offset="34.45%" stop-color="#3a548c"/><stop offset="35.29%" stop-color="#375a8c"/><stop offset="36.13%" stop-color="#34618d"/><stop offset="36.97%" stop-color="#31678e"/><stop offset="37.82%" stop-color="#2f6c8e"/><stop offset="38.66%" stop-color="#2d708e"/><stop offset="39.5%" stop-color="#2c728e"/><stop offset="40.34%" stop-color="#2b758e"/><stop offset="41.18%" stop-color="#2a778e"/><stop offset="42.02%" stop-color="#2a788e"/><stop offset="42.86%" stop-color="#2b758e"/><stop offset="43.7%" stop-color="#2c738e"/><stop offset="44.54%" stop-color="#2c738e"/><stop offset="45.38%" stop-color="#2a788e"/><stop offset="46.22%" stop-color="#26818e"/><stop offset="47.06%" stop-color="#21908d"/><stop offset="47.9%" stop-color="#24aa83"/><stop offset="48.74%" stop-color="#77d153"/><stop offset="49.58%" stop-color="#e5e419"/><stop offset="50.42%" stop-color="#f6e620"/><stop offset="51.26%" stop-color="#bddf26"/><stop offset="52.1%" stop-color="#69cd5b"/><stop offset="52.94%" stop-color="#31b57b"/><stop offset="53.78%" stop-color="#1fa088"/><stop offset="54.62%" stop-color="#218f8d"/><stop offset="55.46%" stop-color="#26818e"/><stop offset="56.3%" stop-color="#2c728e"/><stop offset="57.14%" stop-color="#32658e"/><stop offset="57.98%" stop-color="#3c508b"/><stop offset="58.82%" stop-color="#433d84"/><stop offset="59.66%" stop-color="#472e7c"/><stop offset="60.5%" stop-color="#482374"/><stop offset="61.34%" stop-color="#481c6e"/><stop offset="62.18%" stop-color="#481b6d"/><stop offset="63.03%" stop-color="#482173"/><stop offset="63.87%" stop-color="#472a7a"/><stop offset="64.71%" stop-color="#46337f"/><stop offset="65.55%" stop-color="#423f85"/><stop offset="66.39%" stop-color="#404688"/><stop offset="67.23%" stop-color="#3f4889"/><stop offset="68.07%" stop-color="#3f4788"/><stop offset="68.91%" stop-color="#424186"/><stop offset="69.75%" stop-color="#453882"/><stop offset="70.59%" stop-color="#472d7b"/><stop offset="71.43%" stop-color="#482475"/><stop offset="72.27%" stop-color="#481f70"/><stop offset="73.11%" stop-color="#481b6d"/><stop offset="73.95%" stop-color="#481769"/><stop offset="74.79%" stop-color="#481467"/><stop offset="75.63%" stop-color="#471164"/><stop offset="76.47%" stop-color="#470e61"/><stop offset="77.31%" stop-color="#470d60"/><stop offset="78.15%" stop-color="#470d60"/><stop offset="78.99%" stop-color="#460b5e"/><stop offset="79.83%" stop-color="#460a5d"/><stop offset="80.67%" stop-color="#46075a"/><stop offset="81.51%" stop-color="#450559"/><stop offset="82.35%" stop-color="#450457"/><stop offset="83.19%" stop-color="#46075a"/><stop offset="84.03%" stop-color="#460a5d"/><stop offset="84.87%" stop-color="#470d60"/><stop offset="85.71%" stop-color="#460b5e"/><stop offset="86.55%" stop-color="#46075a"/><stop offset="87.39%" stop-color="#460b5e"/><stop offset="88.24%" stop-color="#471164"/><stop offset="89.08%" stop-color="#48186a"/><stop offset="89.92%" stop-color="#481c6e"/><stop offset="90.76%" stop-color="#481d6f"/><stop offset="91.6%" stop-color="#481d6f"/><stop offset="92.44%" stop-color="#481f70"/><stop offset="93.28%" stop-color="#482071"/><stop offset="94.12%" stop-color="#481f70"/><stop offset="94.96%" stop-color="#481c6e"/><stop offset="95.8%" stop-color="#481a6c"/><stop offset="96.64%" stop-color="#481769"/><stop offset="97.48%" stop-color="#48186a"/><stop offset="98.32%" stop-color="#481b6d"/><stop offset="99.16%" stop-color="#481d6f"/><stop offset="100%" stop-color="#481c6e"/></linearGradient>
<clipPath id="clipD"><rect x="990" y="476.8" width="80" height="400"/><rect x="1036.4" y="473.5" width="40" height="3.8"/></clipPath>
</defs>
<rect width="1724" height="938" fill="#fff"/>
<g filter="url(#soft)">
<rect x="-20" y="-20" width="1764" height="978" fill="#fff"/>
<rect x="152.7" y="34.2" width="234.2" height="172.3" fill="url(#gA1)" stroke="#000" stroke-width="3.2"/>
<text x="269.8" y="29.5" font-size="26.5" text-anchor="middle">0.87</text>
<rect x="152.7" y="239.7" width="234.2" height="172" fill="none" stroke="#000" stroke-width="3.2"/>
<path d="M163.54 379.92C163.62 379.97 163.75 378.91 164.18 380.32C164.61 381.74 166.51 391.89 167.22 392.07C167.93 392.26 169.62 384.78 170.26 381.94C170.9 379.11 172.1 369.89 172.69 367.76C173.28 365.64 174.66 365.79 175.32 363.71C175.99 361.63 177.82 350.41 178.36 349.94C178.91 349.46 179.63 356.28 179.98 359.66C180.34 363.04 180.83 376.42 181.4 378.91C181.97 381.39 184.14 380.41 184.85 380.93C185.56 381.45 186.82 383.13 187.48 383.36C188.14 383.6 189.93 383.36 190.52 382.96C191.11 382.56 192.12 378.86 192.54 379.92C192.97 380.98 193.81 389.36 194.17 392.07C194.52 394.79 195.06 402.39 195.58 403.22C196.1 404.04 198.03 401.65 198.62 399.17C199.21 396.68 200.13 386.55 200.65 381.94C201.17 377.34 202.61 363.09 203.08 359.66C203.55 356.23 204.16 353.51 204.7 352.57C205.24 351.62 207.15 350.49 207.74 351.56C208.33 352.62 209.17 359.56 209.76 361.69C210.36 363.81 212.09 369.79 212.8 369.79C213.51 369.79 215.25 363.34 215.84 361.69C216.43 360.03 217.4 360.1 217.87 355.61C218.34 351.12 219.49 327.33 219.89 323.19C220.3 319.06 220.96 319.92 221.31 320.15C221.67 320.39 222.51 321.56 222.93 325.22C223.36 328.88 224.49 346.36 224.96 351.56C225.43 356.76 226.58 367.31 226.99 369.79C227.39 372.27 228.05 373.54 228.4 372.83C228.76 372.12 229.6 366.19 230.02 363.71C230.45 361.23 231.46 354.27 232.05 351.56C232.64 348.84 234.45 342.19 235.09 340.41C235.73 338.64 236.93 335.77 237.52 336.36C238.11 336.95 239.54 345.48 240.15 345.48C240.77 345.48 242.2 337.07 242.79 336.36C243.38 335.65 244.58 337.86 245.22 339.4C245.86 340.94 247.67 347.64 248.26 349.53C248.85 351.42 249.74 355.14 250.28 355.61C250.83 356.08 252.37 351.69 252.92 353.58C253.46 355.47 254.49 368.62 254.94 371.82C255.39 375.01 256.36 382.11 256.77 380.93C257.17 379.75 257.96 369.37 258.39 361.69C258.81 354 259.99 321.12 260.41 315.09C260.84 309.06 261.68 309.79 262.03 310.02C262.39 310.26 263.05 313.92 263.45 317.12C263.85 320.31 265.01 331.47 265.48 337.37C265.95 343.28 267.03 362.92 267.5 367.76C267.98 372.61 269.1 379.62 269.53 378.91C269.96 378.2 270.8 366.29 271.15 361.69C271.51 357.08 272.17 346.49 272.57 339.4C272.97 332.31 274.12 306.58 274.59 300.91C275.07 295.24 276.15 295.51 276.62 290.78C277.09 286.05 278.17 265.4 278.65 260.39C279.12 255.38 280.2 248.77 280.67 247.83C281.15 246.88 282.23 251.53 282.7 252.29C283.17 253.04 284.25 254.43 284.72 254.31C285.2 254.19 286.35 250.56 286.75 251.27C287.15 251.98 287.81 258.62 288.17 260.39C288.52 262.16 289.29 265.4 289.79 266.47C290.29 267.53 291.95 268.09 292.42 269.51C292.9 270.92 293.44 275.9 293.84 278.62C294.24 281.34 295.39 288.55 295.87 292.8C296.34 297.06 297.42 311.78 297.89 315.09C298.37 318.4 299.45 319.51 299.92 321.17C300.39 322.82 301.35 327.38 301.94 329.27C302.54 331.16 304.39 337.14 304.98 337.37C305.57 337.61 306.54 333.9 307.01 331.3C307.48 328.7 308.56 317.97 309.04 315.09C309.51 312.21 310.59 307.05 311.06 306.58C311.53 306.11 312.61 309.69 313.09 311.04C313.56 312.38 314.71 316.95 315.11 318.13C315.52 319.31 316.18 318.21 316.53 321.17C316.89 324.12 317.73 338.02 318.15 343.45C318.58 348.89 319.71 362.8 320.18 367.76C320.65 372.73 321.73 384.58 322.2 386C322.68 387.41 323.76 381.81 324.23 379.92C324.7 378.03 325.78 371.68 326.26 369.79C326.73 367.9 327.69 364.3 328.28 363.71C328.87 363.12 330.73 364.25 331.32 364.72C331.91 365.2 332.87 368.35 333.35 367.76C333.82 367.17 334.9 360.84 335.37 359.66C335.85 358.48 336.93 357.28 337.4 357.63C337.87 357.99 338.95 363.41 339.42 362.7C339.9 361.99 340.86 353.92 341.45 351.56C342.04 349.19 343.9 345.51 344.49 342.44C345.08 339.37 346.04 328.41 346.52 325.22C346.99 322.03 348.12 316.63 348.54 315.09C348.97 313.55 349.74 311.58 350.16 312.05C350.59 312.52 351.79 317.6 352.19 319.14C352.59 320.68 353.2 324.63 353.61 325.22C354.01 325.81 355.23 322.08 355.63 324.21C356.03 326.33 356.7 338.13 357.05 343.45C357.4 348.77 358.25 366.2 358.67 369.79C359.1 373.38 360.22 374.48 360.7 374.25C361.17 374.01 362.37 371.12 362.72 367.76C363.08 364.41 363.38 349.26 363.74 345.48C364.09 341.7 365.36 337 365.76 335.35C366.16 333.69 366.87 334.37 367.18 331.3C367.49 328.22 368.09 311.97 368.4 309.01C368.7 306.06 369.48 306.73 369.81 305.97C370.14 305.22 370.88 301.94 371.23 302.53C371.59 303.12 372.47 308.15 372.85 311.04C373.23 313.92 374.12 325.71 374.47 327.24C374.83 328.78 375.77 325.03 375.89 324.21C376.01 323.38 375.56 320.63 375.52 320.15" fill="none" stroke="#1f77b4" stroke-width="6.1" stroke-linejoin="round" stroke-linecap="round"/>
<rect x="434.2" y="34.2" width="234.2" height="172.3" fill="url(#gA2)" stroke="#000" stroke-width="3.2"/>
<text x="551.47" y="29.5" font-size="26.5" text-anchor="middle" letter-spacing="0.35">Spike Template</text>
<rect x="434.2" y="239.7" width="234.2" height="172" fill="none" stroke="#000" stroke-width="3.2"/>
<path d="M444.96 271.53C444.99 271.84 444.69 273.69 445.19 274.17C445.69 274.64 448.3 275.35 449.25 275.58C450.19 275.82 452.35 275.95 453.3 276.19C454.24 276.43 456.52 277.21 457.35 277.61C458.18 278.01 459.68 279.64 460.39 279.64C461.1 279.64 462.77 278.01 463.43 277.61C464.09 277.21 465.47 276.07 466.06 276.19C466.65 276.31 467.85 278.06 468.49 278.62C469.13 279.19 470.7 280.77 471.53 281.05C472.36 281.34 474.64 281.15 475.58 281.05C476.53 280.96 478.69 280.41 479.64 280.24C480.58 280.08 482.74 279.54 483.69 279.64C484.63 279.73 486.91 280.89 487.74 281.05C488.57 281.22 490.07 281.57 490.78 281.05C491.49 280.53 493.16 277.47 493.82 276.6C494.48 275.72 495.74 273.91 496.45 273.56C497.16 273.2 499.02 273.49 499.89 273.56C500.77 273.63 503.17 273.69 503.95 274.17C504.73 274.64 505.87 277.09 506.58 277.61C507.29 278.13 509.15 278.32 510.02 278.62C510.9 278.93 513.13 279.96 514.08 280.24C515.02 280.53 517.3 281.48 518.13 281.05C518.96 280.63 520.46 277.59 521.17 276.6C521.88 275.6 523.5 273.54 524.21 272.54C524.91 271.55 526.61 268.99 527.24 268.09C527.88 267.19 529.08 265.15 529.68 264.85C530.27 264.54 531.7 265.22 532.31 265.45C532.92 265.69 534.4 266.28 534.94 266.87C535.49 267.46 536.5 269.15 536.97 270.52C537.44 271.89 538.52 276.26 539 278.62C539.47 280.99 540.57 288.84 541.02 290.78C541.47 292.72 542.44 295 542.84 295.24C543.25 295.47 544.11 294.15 544.47 292.8C544.82 291.46 545.53 285.06 545.88 283.69C546.24 282.32 547.17 280.23 547.5 281.05C547.83 281.88 548.48 286.1 548.72 290.78C548.96 295.46 549.32 312.89 549.53 321.17C549.74 329.44 550.31 352.7 550.54 361.69C550.78 370.67 551.37 393.31 551.56 398.15C551.75 403 551.97 403.93 552.16 403.22C552.35 402.51 552.94 396.92 553.18 392.07C553.41 387.23 553.91 371.14 554.19 361.69C554.47 352.23 555.25 321.67 555.61 311.04C555.96 300.4 556.85 277.37 557.23 270.52C557.61 263.66 558.45 254.93 558.85 252.29C559.25 249.64 560.29 248.42 560.67 247.83C561.05 247.24 561.69 247.13 562.09 247.22C562.49 247.31 563.57 248.17 564.12 248.64C564.66 249.11 566.14 250.02 566.75 251.27C567.36 252.52 568.79 257.25 569.38 259.38C569.98 261.5 571.18 266.91 571.82 269.51C572.45 272.11 574.15 279.06 574.85 281.66C575.56 284.26 577.18 289.83 577.89 291.79C578.6 293.75 580.22 297.37 580.93 298.48C581.64 299.59 583.14 300.98 583.97 301.31C584.8 301.64 587.08 301.48 588.02 301.31C588.97 301.15 591.01 300.3 592.07 299.89C593.14 299.49 595.96 298.41 597.14 297.87C598.32 297.33 601.14 295.83 602.2 295.24C603.27 294.64 605.31 293.51 606.26 292.8C607.2 292.09 609.48 289.87 610.31 289.16C611.14 288.45 612.64 287.2 613.35 286.73C614.06 286.25 615.68 285.63 616.39 285.11C617.09 284.59 618.72 283.03 619.42 282.27C620.13 281.51 621.75 279.33 622.46 278.62C623.17 277.91 624.79 276.71 625.5 276.19C626.21 275.67 627.83 274.64 628.54 274.17C629.25 273.69 630.87 272.45 631.58 272.14C632.29 271.83 633.91 271.67 634.62 271.53C635.33 271.39 636.95 271.28 637.66 270.92C638.37 270.57 640.11 268.97 640.7 268.49C641.29 268.02 642.2 266.92 642.72 266.87C643.24 266.82 644.56 267.78 645.15 268.09C645.74 268.39 647.13 269.58 647.79 269.51C648.45 269.43 650.12 267.83 650.83 267.48C651.54 267.13 653.16 266.77 653.87 266.47C654.57 266.16 656.59 265.08 656.9 264.85C657.22 264.61 656.57 264.49 656.53 264.44" fill="none" stroke="#1f77b4" stroke-width="6.1" stroke-linejoin="round" stroke-linecap="round"/>
<rect x="715.6" y="34.2" width="233.7" height="172.3" fill="url(#gA3)" stroke="#000" stroke-width="3.2"/>
<text x="832.45" y="29.5" font-size="26.5" text-anchor="middle">0.236</text>
<rect x="715.6" y="239.7" width="233.7" height="172" fill="none" stroke="#000" stroke-width="3.2"/>
<path d="M725.57 313.06C725.64 313.42 725.78 315.2 726.21 316.1C726.64 317 728.54 320.76 729.25 320.76C729.96 320.76 731.58 317.12 732.29 316.1C732.99 315.09 734.62 312.88 735.32 312.05C736.03 311.22 737.77 309.55 738.36 309.01C738.95 308.47 739.96 306.92 740.39 307.39C740.81 307.86 741.66 311.81 742.01 313.06C742.36 314.32 742.91 317.61 743.43 318.13C743.95 318.65 745.76 317.4 746.47 317.52C747.18 317.64 748.8 318.76 749.51 319.14C750.21 319.52 751.91 320.41 752.54 320.76C753.18 321.12 754.46 321.47 754.98 322.18C755.5 322.89 756.46 326.2 757 326.84C757.55 327.48 759.09 327.96 759.64 327.65C760.18 327.34 761.19 325.67 761.66 324.21C762.13 322.74 763.21 316.74 763.69 315.09C764.16 313.43 765.17 310.73 765.71 310.02C766.26 309.32 767.76 308.89 768.35 309.01C768.94 309.13 770.14 310.52 770.78 311.04C771.42 311.56 773.11 313.59 773.82 313.47C774.53 313.35 776.15 310.9 776.86 310.02C777.56 309.15 779.3 307.63 779.89 305.97C780.49 304.32 781.45 297.33 781.92 295.84C782.39 294.35 783.54 293.09 783.95 293.21C784.35 293.33 785.01 295.13 785.36 296.86C785.72 298.58 786.51 305.87 786.99 308C787.46 310.13 788.9 314.62 789.42 315.09C789.94 315.56 790.97 312.88 791.44 312.05C791.92 311.22 792.81 308.71 793.47 308C794.13 307.29 796.22 306.45 797.12 305.97C798.01 305.5 800.34 304.66 801.17 303.95C801.99 303.24 803.5 300.77 804.21 299.89C804.91 299.02 806.54 296.69 807.24 296.45C807.95 296.21 809.57 297.47 810.28 297.87C810.99 298.27 812.68 299.3 813.32 299.89C813.96 300.49 815.28 301.52 815.75 302.93C816.23 304.35 816.95 310.4 817.37 312.05C817.8 313.7 818.93 317.23 819.4 317.12C819.87 317 820.95 312.34 821.43 311.04C821.9 309.74 822.98 306.68 823.45 305.97C823.92 305.26 825.01 304.72 825.48 304.96C825.95 305.2 827.08 306.82 827.5 308C827.93 309.18 828.82 311.9 829.12 315.09C829.43 318.28 829.9 328.73 830.14 335.35C830.37 341.97 830.91 364.49 831.15 371.82C831.39 379.14 831.95 394.49 832.16 398.15C832.38 401.82 832.76 403.93 832.97 403.22C833.19 402.51 833.73 396.92 833.99 392.07C834.25 387.23 834.9 371.14 835.2 361.69C835.51 352.23 836.29 320.49 836.62 311.04C836.95 301.58 837.68 286.79 838.04 280.65C838.39 274.5 839.28 262.03 839.66 258.36C840.04 254.7 840.93 250.55 841.28 249.25C841.63 247.95 842.3 247.1 842.7 247.22C843.1 247.34 844.13 249.55 844.72 250.26C845.32 250.97 847.17 251.88 847.76 253.3C848.35 254.72 849.2 259.93 849.79 262.41C850.38 264.9 852.17 272.21 852.83 274.57C853.49 276.93 854.87 280.07 855.46 282.67C856.05 285.27 857.37 293.9 857.89 296.86C858.41 299.81 859.4 306.23 859.92 308C860.44 309.77 861.83 310.99 862.35 312.05C862.87 313.11 863.83 316.34 864.38 317.12C864.92 317.9 866.47 319.21 867.01 318.74C867.55 318.26 868.49 314.32 869.04 313.06C869.58 311.81 871.08 308.66 871.67 308C872.26 307.34 873.46 307.04 874.1 307.39C874.74 307.75 876.55 309.9 877.14 311.04C877.73 312.17 878.69 315.46 879.17 317.12C879.64 318.77 880.72 323.38 881.19 325.22C881.66 327.06 882.82 331.97 883.22 332.92C883.62 333.86 884.23 333.98 884.64 333.32C885.04 332.66 886.12 328.62 886.66 327.24C887.2 325.87 888.63 322.47 889.29 321.57C889.96 320.67 891.62 319.95 892.33 319.55C893.04 319.14 894.66 318.7 895.37 318.13C896.08 317.56 897.7 315.51 898.41 314.68C899.12 313.86 900.74 312.17 901.45 311.04C902.16 309.9 903.85 306.26 904.49 304.96C905.13 303.66 906.4 301.31 906.92 299.89C907.44 298.48 908.4 294.06 908.95 292.8C909.49 291.55 910.97 289.39 911.58 289.16C912.19 288.92 913.62 290.47 914.21 290.78C914.8 291.09 916.13 291.32 916.65 291.79C917.17 292.26 918.25 293.29 918.67 294.83C919.1 296.37 919.94 303.35 920.29 304.96C920.65 306.57 921.31 308.37 921.71 308.61C922.11 308.84 923.26 308 923.74 306.99C924.21 305.97 925.29 301.31 925.76 299.89C926.23 298.48 927.31 296.13 927.79 294.83C928.26 293.53 929.41 290.12 929.81 288.75C930.22 287.38 930.88 283.98 931.23 283.08C931.59 282.18 932.47 280.86 932.85 281.05C933.23 281.24 934.05 283.8 934.47 284.7C934.9 285.6 936.03 288.52 936.5 288.75C936.97 288.99 938.4 287.01 938.53 286.73C938.65 286.44 937.66 286.37 937.54 286.32" fill="none" stroke="#1f77b4" stroke-width="6.1" stroke-linejoin="round" stroke-linecap="round"/>
<line x1="136.1" y1="403.8" x2="151.3" y2="403.8" stroke="#000" stroke-width="3.2"/>
<text x="120.6" y="415.3" font-size="26" text-anchor="end">0</text>
<line x1="136.1" y1="351.69" x2="151.3" y2="351.69" stroke="#000" stroke-width="3.2"/>
<text x="120.6" y="363.19" font-size="26" text-anchor="end">85</text>
<line x1="136.1" y1="299.59" x2="151.3" y2="299.59" stroke="#000" stroke-width="3.2"/>
<text x="120.6" y="311.09" font-size="26" text-anchor="end">170</text>
<line x1="136.1" y1="247.49" x2="151.3" y2="247.49" stroke="#000" stroke-width="3.2"/>
<text x="120.6" y="258.99" font-size="26" text-anchor="end">255</text>
<rect x="130" y="34.2" width="11.9" height="172.3" fill="url(#vir)" stroke="#000" stroke-width="3.2"/>
<line x1="113.4" y1="34.2" x2="128.6" y2="34.2" stroke="#000" stroke-width="3.2"/>
<text x="96.5" y="45.4" font-size="26" text-anchor="end">255</text>
<line x1="113.4" y1="206.5" x2="128.6" y2="206.5" stroke="#000" stroke-width="3.2"/>
<text x="98.4" y="216.5" font-size="26" text-anchor="end">0</text>
<text x="136.35" y="26" font-size="25.8" text-anchor="middle" font-style="italic" letter-spacing="1.0">Mag.</text>
<text x="0.3" y="64.3" font-size="39.5">A.</text>
<rect x="152.7" y="446.3" width="234.2" height="172" fill="url(#gC1)" stroke="#000" stroke-width="3.2"/>
<text x="269.8" y="441.6" font-size="26.5" text-anchor="middle">0.718</text>
<rect x="152.7" y="652.9" width="234.2" height="172.3" fill="none" stroke="#000" stroke-width="3.2"/>
<path d="M163.54 737.6C163.57 737.43 163.47 736.58 163.78 736.18C164.09 735.78 165.64 733.8 166.21 734.15C166.77 734.51 168.05 738.98 168.64 739.22C169.23 739.46 170.66 736.84 171.27 736.18C171.89 735.52 173.36 733.43 173.91 733.55C174.45 733.66 175.46 736.06 175.93 737.19C176.4 738.33 177.49 741.85 177.96 743.27C178.43 744.69 179.58 747.46 179.98 749.35C180.39 751.24 181.07 757.11 181.4 759.48C181.73 761.84 182.42 767.95 182.82 769.61C183.22 771.26 184.37 773.31 184.85 773.66C185.32 774.01 186.45 771.7 186.87 772.65C187.3 773.59 188.07 780.23 188.49 781.76C188.92 783.3 190 785.15 190.52 785.82C191.04 786.48 192.43 787.15 192.95 787.44C193.47 787.72 194.5 788.91 194.98 788.25C195.45 787.58 196.46 783.7 197 781.76C197.55 779.83 199.02 774 199.64 771.63C200.25 769.27 201.73 763.75 202.27 761.5C202.81 759.26 203.77 753.92 204.29 752.39C204.81 750.85 206.09 749.28 206.73 748.34C207.36 747.39 209.06 745.23 209.76 744.28C210.47 743.34 212.09 741.48 212.8 740.23C213.51 738.98 215.13 734.37 215.84 733.55C216.55 732.72 218.29 732.36 218.88 733.14C219.47 733.92 220.55 738.93 220.91 740.23C221.26 741.53 221.64 745.11 221.92 744.28C222.2 743.46 222.94 735.15 223.34 733.14C223.74 731.13 224.82 728.36 225.36 727.06C225.91 725.76 227.45 723.3 228 722C228.54 720.7 229.48 717.22 230.02 715.92C230.57 714.62 232.19 712.39 232.66 710.86C233.13 709.32 233.79 704.64 234.08 702.75C234.36 700.86 234.69 696.11 235.09 694.65C235.49 693.18 237 691.25 237.52 690.19C238.04 689.13 239.07 685.84 239.55 685.53C240.02 685.22 241.1 688.15 241.57 687.56C242.04 686.97 243.13 682.24 243.6 680.47C244.07 678.69 245.08 673.66 245.62 672.36C246.17 671.06 247.71 669.09 248.26 669.32C248.8 669.56 249.81 674.86 250.28 674.39C250.76 673.92 251.88 666.81 252.31 665.27C252.74 663.74 253.53 661.22 253.93 661.22C254.33 661.22 255.35 663.97 255.75 665.27C256.16 666.57 256.95 670.35 257.37 672.36C257.8 674.37 258.93 680.96 259.4 682.49C259.87 684.03 260.91 685.41 261.43 685.53C261.95 685.65 263.34 682.91 263.86 683.51C264.38 684.1 265.41 690.6 265.88 690.6C266.36 690.6 267.44 683.39 267.91 683.51C268.38 683.62 269.46 690.9 269.94 691.61C270.41 692.32 271.49 690.41 271.96 689.58C272.43 688.76 273.44 685.11 273.99 684.52C274.53 683.93 276.01 684.16 276.62 684.52C277.24 684.87 278.71 686.49 279.25 687.56C279.8 688.62 280.81 692.22 281.28 693.64C281.75 695.05 282.79 698.77 283.31 699.71C283.83 700.66 285.22 700.32 285.74 701.74C286.26 703.16 287.17 710.33 287.76 711.87C288.35 713.41 290.09 714.2 290.8 714.91C291.51 715.62 293.2 717.24 293.84 717.95C294.48 718.66 295.68 720.63 296.27 720.99C296.86 721.34 298.29 721.58 298.91 720.99C299.52 720.39 301 717.22 301.54 715.92C302.08 714.62 303.12 711.02 303.57 709.84C304.01 708.66 304.92 705.67 305.39 705.79C305.86 705.91 307.12 708.61 307.62 710.86C308.11 713.1 309.17 721.02 309.64 725.04C310.12 729.06 311.2 740.57 311.67 745.3C312.14 750.02 313.22 761.3 313.7 765.56C314.17 769.81 315.25 778.69 315.72 781.76C316.19 784.84 317.27 789.77 317.75 791.89C318.22 794.02 319.3 798.34 319.77 800C320.25 801.65 321.28 805.25 321.8 806.07C322.32 806.9 323.66 807.09 324.23 807.09C324.8 807.09 326.07 805.72 326.66 806.07C327.25 806.43 328.63 809.77 329.29 810.13C329.96 810.48 331.7 809.23 332.33 809.11C332.97 809 334.17 808.64 334.76 809.11C335.36 809.59 336.78 812.39 337.4 813.17C338.01 813.95 339.49 815.44 340.03 815.8C340.58 816.15 341.66 816.87 342.06 816.2C342.46 815.54 343.15 811.54 343.48 810.13C343.81 808.71 344.49 805.35 344.89 804.05C345.3 802.75 346.38 799.46 346.92 798.98C347.46 798.51 349.01 800.47 349.55 800C350.1 799.52 351.11 796.59 351.58 794.93C352.05 793.28 353.13 788.06 353.61 785.82C354.08 783.57 355.23 777.1 355.63 775.69C356.03 774.27 356.58 773.71 357.05 773.66C357.52 773.61 359.02 774.93 359.68 775.28C360.35 775.63 362.01 776.65 362.72 776.7C363.43 776.75 365.05 775.99 365.76 775.69C366.47 775.38 368.09 774.11 368.8 774.06C369.51 774.02 371.25 775.56 371.84 775.28C372.43 775 373.46 772.77 373.87 771.63C374.27 770.5 375.16 766.45 375.28 765.56C375.41 764.66 374.95 764.12 374.91 763.94" fill="none" stroke="#1f77b4" stroke-width="6.1" stroke-linejoin="round" stroke-linecap="round"/>
<line x1="163.5" y1="826.6" x2="163.5" y2="841.8" stroke="#000" stroke-width="3.2"/>
<text transform="translate(165.4,869.3) rotate(-20)" text-anchor="middle" y="9.49" font-size="26">-500</text>
<line x1="216.85" y1="826.6" x2="216.85" y2="841.8" stroke="#000" stroke-width="3.2"/>
<text transform="translate(219.15,869.3) rotate(-20)" text-anchor="middle" y="9.49" font-size="26">-250</text>
<line x1="270.2" y1="826.6" x2="270.2" y2="841.8" stroke="#000" stroke-width="3.2"/>
<text transform="translate(274.2,869.3) rotate(-20)" text-anchor="middle" y="9.49" font-size="26">0</text>
<line x1="323.55" y1="826.6" x2="323.55" y2="841.8" stroke="#000" stroke-width="3.2"/>
<text transform="translate(326.75,869.3) rotate(-20)" text-anchor="middle" y="9.49" font-size="26">250</text>
<line x1="376.9" y1="826.6" x2="376.9" y2="841.8" stroke="#000" stroke-width="3.2"/>
<text transform="translate(380.8,869.3) rotate(-20)" text-anchor="middle" y="9.49" font-size="26">500</text>
<text x="269.8" y="932.4" font-size="27" text-anchor="middle">Time (ms)</text>
<rect x="434.2" y="446.3" width="234.2" height="172" fill="url(#gC2)" stroke="#000" stroke-width="3.2"/>
<text x="551.47" y="441.6" font-size="26.5" text-anchor="middle" letter-spacing="0.35">Spike Template</text>
<rect x="434.2" y="652.9" width="234.2" height="172.3" fill="none" stroke="#000" stroke-width="3.2"/>
<path d="M444.96 777.31C445.11 776.69 445.59 773.17 446.21 772.04C446.83 770.9 449.31 768.34 450.26 767.58C451.2 766.83 453.37 765.79 454.31 765.56C455.26 765.32 457.42 765.75 458.36 765.56C459.31 765.37 461.59 764.6 462.41 763.94C463.24 763.27 464.74 760.64 465.45 759.88C466.16 759.13 467.78 757.85 468.49 757.45C469.2 757.05 470.82 756.49 471.53 756.44C472.24 756.39 473.86 756.81 474.57 757.05C475.28 757.28 476.9 757.95 477.61 758.47C478.32 758.99 479.94 760.79 480.65 761.5C481.36 762.21 482.98 763.9 483.69 764.54C484.4 765.18 486.09 766.43 486.73 766.97C487.36 767.52 488.57 768.42 489.16 769.2C489.75 769.98 491.13 772.79 491.79 773.66C492.45 774.53 494 775.94 494.83 776.7C495.66 777.45 497.94 779.2 498.88 780.14C499.83 781.09 501.99 783.79 502.93 784.8C503.88 785.82 506.04 787.98 506.99 788.85C507.93 789.73 510.21 791.59 511.04 792.3C511.86 793.01 513.41 794.46 514.08 794.93C514.74 795.4 516.12 796.42 516.71 796.35C517.3 796.28 518.57 795.08 519.14 794.32C519.71 793.57 521.05 790.67 521.57 789.87C522.09 789.06 523.05 787.79 523.6 787.44C524.14 787.08 525.62 787.25 526.23 786.83C526.85 786.4 528.32 784.38 528.87 783.79C529.41 783.2 530.42 781.76 530.89 781.76C531.36 781.76 532.44 783.08 532.92 783.79C533.39 784.5 534.47 787.25 534.94 787.84C535.42 788.43 536.5 789.33 536.97 788.85C537.44 788.38 538.52 785.33 539 783.79C539.47 782.25 540.55 778.05 541.02 775.69C541.49 773.32 542.57 767.08 543.05 763.53C543.52 759.98 544.65 750.26 545.07 745.3C545.5 740.33 546.34 727.37 546.69 720.99C547.05 714.6 547.78 696.74 548.11 690.6C548.44 684.45 549.2 671.74 549.53 668.31C549.86 664.88 550.62 661.46 550.95 661.22C551.28 660.98 552.06 664.04 552.37 666.29C552.67 668.53 553.25 676.45 553.58 680.47C553.91 684.48 554.82 696 555.2 700.73C555.58 705.45 556.42 716.49 556.82 720.99C557.23 725.48 558.2 735.32 558.65 739.22C559.1 743.12 560.2 751.58 560.67 754.41C561.15 757.25 562.23 761.28 562.7 763.53C563.17 765.78 564.25 771.06 564.72 773.66C565.2 776.26 566.28 782.98 566.75 785.82C567.22 788.65 568.3 795.49 568.78 797.97C569.25 800.45 570.33 805.31 570.8 807.09C571.27 808.86 572.36 812.1 572.83 813.17C573.3 814.23 574.38 815.73 574.85 816.2C575.33 816.68 576.34 817.45 576.88 817.22C577.42 816.98 578.88 815.12 579.51 814.18C580.15 813.23 581.71 810.41 582.35 809.11C582.99 807.81 584.37 804.57 584.98 803.04C585.6 801.5 587.03 797.48 587.62 795.94C588.21 794.41 589.41 791.17 590.05 789.87C590.69 788.57 592.38 785.87 593.09 784.8C593.8 783.74 595.42 781.46 596.13 780.75C596.84 780.04 598.46 779.08 599.17 778.72C599.87 778.37 601.5 777.78 602.2 777.71C602.91 777.64 604.53 777.88 605.24 778.12C605.95 778.35 607.45 779.5 608.28 779.74C609.11 779.97 611.39 779.95 612.33 780.14C613.28 780.33 615.44 781.29 616.39 781.36C617.33 781.43 619.61 780.75 620.44 780.75C621.26 780.75 622.77 781 623.48 781.36C624.19 781.71 625.81 783.08 626.52 783.79C627.22 784.5 628.85 787.01 629.55 787.44C630.26 787.86 631.77 787.39 632.59 787.44C633.42 787.48 635.82 787.75 636.65 787.84C637.47 787.94 639.02 788.44 639.68 788.25C640.35 788.06 641.73 786.55 642.32 786.22C642.91 785.89 644.18 785.34 644.75 785.41C645.32 785.48 646.59 786.31 647.18 786.83C647.77 787.35 649.15 789.32 649.81 789.87C650.48 790.41 652.14 791.13 652.85 791.49C653.56 791.84 655.46 792.58 655.89 792.91C656.32 793.24 656.46 794.16 656.53 794.32" fill="none" stroke="#1f77b4" stroke-width="6.1" stroke-linejoin="round" stroke-linecap="round"/>
<line x1="445" y1="826.6" x2="445" y2="841.8" stroke="#000" stroke-width="3.2"/>
<text transform="translate(446.9,869.3) rotate(-20)" text-anchor="middle" y="9.49" font-size="26">-500</text>
<line x1="498.35" y1="826.6" x2="498.35" y2="841.8" stroke="#000" stroke-width="3.2"/>
<text transform="translate(500.65,869.3) rotate(-20)" text-anchor="middle" y="9.49" font-size="26">-250</text>
<line x1="551.7" y1="826.6" x2="551.7" y2="841.8" stroke="#000" stroke-width="3.2"/>
<text transform="translate(555.7,869.3) rotate(-20)" text-anchor="middle" y="9.49" font-size="26">0</text>
<line x1="605.05" y1="826.6" x2="605.05" y2="841.8" stroke="#000" stroke-width="3.2"/>
<text transform="translate(608.25,869.3) rotate(-20)" text-anchor="middle" y="9.49" font-size="26">250</text>
<line x1="658.4" y1="826.6" x2="658.4" y2="841.8" stroke="#000" stroke-width="3.2"/>
<text transform="translate(662.3,869.3) rotate(-20)" text-anchor="middle" y="9.49" font-size="26">500</text>
<text x="551.3" y="932.4" font-size="27" text-anchor="middle">Time (ms)</text>
<rect x="715.6" y="446.3" width="233.7" height="172" fill="url(#gC3)" stroke="#000" stroke-width="3.2"/>
<text x="832.45" y="441.6" font-size="26.5" text-anchor="middle">0.22</text>
<rect x="715.6" y="652.9" width="233.7" height="172.3" fill="none" stroke="#000" stroke-width="3.2"/>
<path d="M725.57 780.75C725.64 780.28 725.78 777.53 726.21 776.7C726.64 775.87 728.54 774.3 729.25 773.66C729.96 773.02 731.58 771.75 732.29 771.23C732.99 770.71 734.62 769.16 735.32 769.2C736.03 769.25 737.65 770.76 738.36 771.63C739.07 772.51 740.69 775.71 741.4 776.7C742.11 777.69 743.73 779.79 744.44 780.14C745.15 780.5 746.77 779.5 747.48 779.74C748.19 779.97 749.81 781.65 750.52 782.17C751.23 782.69 752.85 783.82 753.56 784.19C754.27 784.57 755.89 785.46 756.6 785.41C757.31 785.36 758.93 784.21 759.64 783.79C760.34 783.36 762.04 782.35 762.67 781.76C763.31 781.17 764.51 779.24 765.11 778.72C765.7 778.2 767.08 777.31 767.74 777.31C768.4 777.31 770.07 778.32 770.78 778.72C771.49 779.13 773.11 780.44 773.82 780.75C774.53 781.06 776.22 781.36 776.86 781.36C777.49 781.36 778.77 780.35 779.29 780.75C779.81 781.15 780.84 783.74 781.31 784.8C781.79 785.87 782.8 789.63 783.34 789.87C783.88 790.1 785.31 787.3 785.97 786.83C786.63 786.36 788.3 786.12 789.01 785.82C789.72 785.51 791.39 784.55 792.05 784.19C792.71 783.84 794.09 783.41 794.68 782.78C795.27 782.14 796.48 779.79 797.12 778.72C797.75 777.66 799.49 774.96 800.15 773.66C800.82 772.36 802.2 768.76 802.79 767.58C803.38 766.4 804.58 764.48 805.22 763.53C805.86 762.58 807.55 760.31 808.26 759.48C808.97 758.65 810.59 756.96 811.3 756.44C812.01 755.92 813.67 754.9 814.34 755.02C815 755.14 816.38 756.98 816.97 757.45C817.56 757.92 818.83 759.31 819.4 759.07C819.97 758.84 821.31 756.56 821.83 755.43C822.35 754.29 823.38 751.48 823.86 749.35C824.33 747.22 825.46 740.5 825.88 737.19C826.31 733.88 827.15 725.71 827.5 720.99C827.86 716.26 828.59 702.35 828.92 696.67C829.25 691 830.01 676.43 830.34 672.36C830.67 668.3 831.43 662.77 831.76 661.83C832.09 660.88 832.85 662.56 833.18 664.26C833.51 665.96 834.26 673.11 834.59 676.41C834.93 679.72 835.66 688.6 836.01 692.62C836.37 696.64 837.21 706.84 837.63 710.86C838.06 714.87 839.19 723.75 839.66 727.06C840.13 730.37 841.17 736.38 841.69 739.22C842.21 742.06 843.6 748.77 844.12 751.37C844.64 753.97 845.67 759.14 846.14 761.5C846.62 763.87 847.74 769.03 848.17 771.63C848.59 774.23 849.36 781.19 849.79 783.79C850.21 786.39 851.3 791.79 851.82 793.92C852.34 796.05 853.73 800.65 854.25 802.02C854.77 803.39 855.8 805.15 856.27 805.67C856.75 806.19 857.75 806.91 858.3 806.48C858.84 806.05 860.32 803.3 860.93 802.02C861.55 800.75 863.02 797.08 863.57 795.54C864.11 794 865.12 790.11 865.59 788.85C866.06 787.6 867.14 785.44 867.62 784.8C868.09 784.16 869.17 783.38 869.64 783.38C870.12 783.38 871.2 784.16 871.67 784.8C872.14 785.44 873.22 787.55 873.7 788.85C874.17 790.15 875.2 794.41 875.72 795.94C876.24 797.48 877.51 800.84 878.15 802.02C878.79 803.2 880.48 805.32 881.19 806.07C881.9 806.83 883.52 807.99 884.23 808.51C884.94 809.03 886.56 810.06 887.27 810.53C887.98 811 889.6 812.32 890.31 812.56C891.02 812.79 892.64 812.42 893.35 812.56C894.06 812.7 895.68 813.47 896.39 813.77C897.09 814.08 898.72 814.91 899.42 815.19C900.13 815.47 901.75 816.37 902.46 816.2C903.17 816.04 904.79 814.2 905.5 813.77C906.21 813.35 907.83 812.39 908.54 812.56C909.25 812.72 910.87 815.36 911.58 815.19C912.29 815.03 913.91 812.16 914.62 811.14C915.33 810.12 916.95 807.19 917.66 806.48C918.37 805.77 919.99 805.23 920.7 805.06C921.41 804.9 923.03 805.18 923.74 805.06C924.44 804.94 926.07 803.93 926.77 804.05C927.48 804.17 929.1 805.55 929.81 806.07C930.52 806.59 932.14 808.39 932.85 808.51C933.56 808.62 935.23 807.49 935.89 807.09C936.55 806.69 938.26 805.23 938.53 805.06C938.79 804.9 938.19 805.6 938.15 805.67" fill="none" stroke="#1f77b4" stroke-width="6.1" stroke-linejoin="round" stroke-linecap="round"/>
<line x1="726.15" y1="826.6" x2="726.15" y2="841.8" stroke="#000" stroke-width="3.2"/>
<text transform="translate(728.05,869.3) rotate(-20)" text-anchor="middle" y="9.49" font-size="26">-500</text>
<line x1="779.5" y1="826.6" x2="779.5" y2="841.8" stroke="#000" stroke-width="3.2"/>
<text transform="translate(781.8,869.3) rotate(-20)" text-anchor="middle" y="9.49" font-size="26">-250</text>
<line x1="832.85" y1="826.6" x2="832.85" y2="841.8" stroke="#000" stroke-width="3.2"/>
<text transform="translate(836.85,869.3) rotate(-20)" text-anchor="middle" y="9.49" font-size="26">0</text>
<line x1="886.2" y1="826.6" x2="886.2" y2="841.8" stroke="#000" stroke-width="3.2"/>
<text transform="translate(889.4,869.3) rotate(-20)" text-anchor="middle" y="9.49" font-size="26">250</text>
<line x1="939.55" y1="826.6" x2="939.55" y2="841.8" stroke="#000" stroke-width="3.2"/>
<text transform="translate(943.45,869.3) rotate(-20)" text-anchor="middle" y="9.49" font-size="26">500</text>
<text x="832.45" y="932.4" font-size="27" text-anchor="middle">Time (ms)</text>
<line x1="136.1" y1="817.8" x2="151.3" y2="817.8" stroke="#000" stroke-width="3.2"/>
<text x="120.6" y="829.3" font-size="26" text-anchor="end">0</text>
<line x1="136.1" y1="765.69" x2="151.3" y2="765.69" stroke="#000" stroke-width="3.2"/>
<text x="120.6" y="777.19" font-size="26" text-anchor="end">85</text>
<line x1="136.1" y1="713.59" x2="151.3" y2="713.59" stroke="#000" stroke-width="3.2"/>
<text x="120.6" y="725.09" font-size="26" text-anchor="end">170</text>
<line x1="136.1" y1="661.48" x2="151.3" y2="661.48" stroke="#000" stroke-width="3.2"/>
<text x="120.6" y="672.98" font-size="26" text-anchor="end">255</text>
<rect x="130" y="446.3" width="11.9" height="172" fill="url(#vir)" stroke="#000" stroke-width="3.2"/>
<line x1="113.4" y1="446.3" x2="128.6" y2="446.3" stroke="#000" stroke-width="3.2"/>
<text x="96.5" y="457.5" font-size="26" text-anchor="end">255</text>
<line x1="113.4" y1="618.3" x2="128.6" y2="618.3" stroke="#000" stroke-width="3.2"/>
<text x="98.4" y="628.3" font-size="26" text-anchor="end">0</text>
<text x="136.35" y="438.1" font-size="25.8" text-anchor="middle" font-style="italic" letter-spacing="1.0">Mag.</text>
<text x="1.1" y="476.4" font-size="39.5">C.</text>
<g shape-rendering="crispEdges">
<rect x="1054.1" y="34.2" width="475.5" height="377.1" fill="#440154"/>
<rect x="1054.1" y="34.2" width="26.72" height="37.1" fill="#460b5e"/>
<rect x="1079.32" y="34.2" width="26.72" height="37.1" fill="#472e7c"/>
<rect x="1105.74" y="34.2" width="26.72" height="37.1" fill="#481a6c"/>
<rect x="1132.16" y="34.2" width="53.14" height="37.1" fill="#3e4989"/>
<rect x="1185" y="34.2" width="26.72" height="37.1" fill="#46085c"/>
<rect x="1211.42" y="34.2" width="26.72" height="37.1" fill="#481a6c"/>
<rect x="1237.84" y="34.2" width="26.72" height="37.1" fill="#472e7c"/>
<rect x="1264.26" y="34.2" width="26.72" height="37.1" fill="#450457"/>
<rect x="1290.68" y="34.2" width="26.72" height="37.1" fill="#481a6c"/>
<rect x="1317.1" y="34.2" width="26.72" height="37.1" fill="#482475"/>
<rect x="1343.52" y="34.2" width="26.72" height="37.1" fill="#46085c"/>
<rect x="1369.94" y="34.2" width="26.72" height="37.1" fill="#433e85"/>
<rect x="1396.36" y="34.2" width="26.72" height="37.1" fill="#414487"/>
<rect x="1422.78" y="34.2" width="26.72" height="37.1" fill="#22a884"/>
<rect x="1449.2" y="34.2" width="26.72" height="37.1" fill="#472a7a"/>
<rect x="1475.62" y="34.2" width="26.72" height="37.1" fill="#481d6f"/>
<rect x="1502.04" y="34.2" width="26.72" height="37.1" fill="#463480"/>
<rect x="1054.1" y="71" width="26.72" height="38.1" fill="#471365"/>
<rect x="1079.32" y="71" width="26.72" height="38.1" fill="#21918c"/>
<rect x="1105.74" y="71" width="26.72" height="38.1" fill="#433e85"/>
<rect x="1132.16" y="71" width="26.72" height="38.1" fill="#2c738e"/>
<rect x="1158.58" y="71" width="26.72" height="38.1" fill="#23898e"/>
<rect x="1185" y="71" width="26.72" height="38.1" fill="#482475"/>
<rect x="1211.42" y="71" width="26.72" height="38.1" fill="#414487"/>
<rect x="1237.84" y="71" width="26.72" height="38.1" fill="#2a788e"/>
<rect x="1264.26" y="71" width="26.72" height="38.1" fill="#471063"/>
<rect x="1290.68" y="71" width="26.72" height="38.1" fill="#38588c"/>
<rect x="1317.1" y="71" width="26.72" height="38.1" fill="#375a8c"/>
<rect x="1343.52" y="71" width="26.72" height="38.1" fill="#471365"/>
<rect x="1369.94" y="71" width="26.72" height="38.1" fill="#1e9c89"/>
<rect x="1396.36" y="71" width="26.72" height="38.1" fill="#2f6c8e"/>
<rect x="1422.78" y="71" width="26.72" height="38.1" fill="#4ec36b"/>
<rect x="1449.2" y="71" width="26.72" height="38.1" fill="#2f6c8e"/>
<rect x="1475.62" y="71" width="26.72" height="38.1" fill="#3e4989"/>
<rect x="1502.04" y="71" width="26.72" height="38.1" fill="#2f6c8e"/>
<rect x="1054.1" y="108.8" width="26.72" height="38.1" fill="#414487"/>
<rect x="1079.32" y="108.8" width="26.72" height="38.1" fill="#21918c"/>
<rect x="1105.74" y="108.8" width="26.72" height="38.1" fill="#2c738e"/>
<rect x="1132.16" y="108.8" width="26.72" height="38.1" fill="#23898e"/>
<rect x="1158.58" y="108.8" width="26.72" height="38.1" fill="#1e9c89"/>
<rect x="1185" y="108.8" width="26.72" height="38.1" fill="#3b528b"/>
<rect x="1211.42" y="108.8" width="26.72" height="38.1" fill="#355f8d"/>
<rect x="1237.84" y="108.8" width="26.72" height="38.1" fill="#25848e"/>
<rect x="1264.26" y="108.8" width="26.72" height="38.1" fill="#463480"/>
<rect x="1290.68" y="108.8" width="26.72" height="38.1" fill="#21918c"/>
<rect x="1317.1" y="108.8" width="26.72" height="38.1" fill="#2d718e"/>
<rect x="1343.52" y="108.8" width="26.72" height="38.1" fill="#433e85"/>
<rect x="1369.94" y="108.8" width="26.72" height="38.1" fill="#21918c"/>
<rect x="1396.36" y="108.8" width="26.72" height="38.1" fill="#2a788e"/>
<rect x="1422.78" y="108.8" width="53.14" height="38.1" fill="#21918c"/>
<rect x="1475.62" y="108.8" width="26.72" height="38.1" fill="#2c738e"/>
<rect x="1502.04" y="108.8" width="26.72" height="38.1" fill="#25848e"/>
<rect x="1054.1" y="146.6" width="26.72" height="38.1" fill="#287d8e"/>
<rect x="1079.32" y="146.6" width="26.72" height="38.1" fill="#1fa188"/>
<rect x="1105.74" y="146.6" width="26.72" height="38.1" fill="#1e9c89"/>
<rect x="1132.16" y="146.6" width="53.14" height="38.1" fill="#1f978b"/>
<rect x="1185" y="146.6" width="26.72" height="38.1" fill="#287d8e"/>
<rect x="1211.42" y="146.6" width="53.14" height="38.1" fill="#1e9c89"/>
<rect x="1264.26" y="146.6" width="26.72" height="38.1" fill="#2a788e"/>
<rect x="1290.68" y="146.6" width="26.72" height="38.1" fill="#20a386"/>
<rect x="1317.1" y="146.6" width="26.72" height="38.1" fill="#1e9c89"/>
<rect x="1343.52" y="146.6" width="26.72" height="38.1" fill="#287d8e"/>
<rect x="1369.94" y="146.6" width="26.72" height="38.1" fill="#22a884"/>
<rect x="1396.36" y="146.6" width="26.72" height="38.1" fill="#25848e"/>
<rect x="1422.78" y="146.6" width="26.72" height="38.1" fill="#31678e"/>
<rect x="1449.2" y="146.6" width="26.72" height="38.1" fill="#21918c"/>
<rect x="1475.62" y="146.6" width="26.72" height="38.1" fill="#22a884"/>
<rect x="1502.04" y="146.6" width="26.72" height="38.1" fill="#1e9c89"/>
<rect x="1054.1" y="184.4" width="26.72" height="38.1" fill="#dfe318"/>
<rect x="1079.32" y="184.4" width="26.72" height="38.1" fill="#287d8e"/>
<rect x="1105.74" y="184.4" width="26.72" height="38.1" fill="#8ed645"/>
<rect x="1132.16" y="184.4" width="26.72" height="38.1" fill="#1f958b"/>
<rect x="1158.58" y="184.4" width="26.72" height="38.1" fill="#228b8d"/>
<rect x="1185" y="184.4" width="26.72" height="38.1" fill="#9bd93c"/>
<rect x="1211.42" y="184.4" width="26.72" height="38.1" fill="#5ec962"/>
<rect x="1237.84" y="184.4" width="26.72" height="38.1" fill="#20a386"/>
<rect x="1264.26" y="184.4" width="26.72" height="38.1" fill="#86d549"/>
<rect x="1290.68" y="184.4" width="26.72" height="38.1" fill="#1fa188"/>
<rect x="1317.1" y="184.4" width="26.72" height="38.1" fill="#52c569"/>
<rect x="1343.52" y="184.4" width="26.72" height="38.1" fill="#fde725"/>
<rect x="1369.94" y="184.4" width="26.72" height="38.1" fill="#25848e"/>
<rect x="1396.36" y="184.4" width="26.72" height="38.1" fill="#21918c"/>
<rect x="1422.78" y="184.4" width="26.72" height="38.1" fill="#414487"/>
<rect x="1449.2" y="184.4" width="26.72" height="38.1" fill="#26ad81"/>
<rect x="1475.62" y="184.4" width="26.72" height="38.1" fill="#5ec962"/>
<rect x="1502.04" y="184.4" width="26.72" height="38.1" fill="#22a884"/>
<rect x="1054.1" y="222.2" width="26.72" height="38.1" fill="#44bf70"/>
<rect x="1079.32" y="222.2" width="26.72" height="38.1" fill="#3b528b"/>
<rect x="1105.74" y="222.2" width="26.72" height="38.1" fill="#2f6c8e"/>
<rect x="1132.16" y="222.2" width="26.72" height="38.1" fill="#38588c"/>
<rect x="1158.58" y="222.2" width="26.72" height="38.1" fill="#414487"/>
<rect x="1185" y="222.2" width="26.72" height="38.1" fill="#29af7f"/>
<rect x="1211.42" y="222.2" width="26.72" height="38.1" fill="#287d8e"/>
<rect x="1237.84" y="222.2" width="26.72" height="38.1" fill="#375a8c"/>
<rect x="1264.26" y="222.2" width="26.72" height="38.1" fill="#86d549"/>
<rect x="1290.68" y="222.2" width="53.14" height="38.1" fill="#31678e"/>
<rect x="1343.52" y="222.2" width="26.72" height="38.1" fill="#22a884"/>
<rect x="1369.94" y="222.2" width="26.72" height="38.1" fill="#463480"/>
<rect x="1396.36" y="222.2" width="26.72" height="38.1" fill="#2f6c8e"/>
<rect x="1422.78" y="222.2" width="26.72" height="38.1" fill="#481a6c"/>
<rect x="1449.2" y="222.2" width="26.72" height="38.1" fill="#38588c"/>
<rect x="1475.62" y="222.2" width="53.14" height="38.1" fill="#375a8c"/>
<rect x="1054.1" y="260" width="26.72" height="38.1" fill="#481d6f"/>
<rect x="1079.32" y="260" width="53.14" height="38.1" fill="#482475"/>
<rect x="1132.16" y="260" width="26.72" height="38.1" fill="#481d6f"/>
<rect x="1158.58" y="260" width="26.72" height="38.1" fill="#471365"/>
<rect x="1185" y="260" width="26.72" height="38.1" fill="#414487"/>
<rect x="1211.42" y="260" width="26.72" height="38.1" fill="#472e7c"/>
<rect x="1237.84" y="260" width="26.72" height="38.1" fill="#482475"/>
<rect x="1264.26" y="260" width="26.72" height="38.1" fill="#3c4f8a"/>
<rect x="1290.68" y="260" width="26.72" height="38.1" fill="#481d6f"/>
<rect x="1317.1" y="260" width="26.72" height="38.1" fill="#481769"/>
<rect x="1343.52" y="260" width="26.72" height="38.1" fill="#453781"/>
<rect x="1369.94" y="260" width="26.72" height="38.1" fill="#481769"/>
<rect x="1396.36" y="260" width="26.72" height="38.1" fill="#463480"/>
<rect x="1422.78" y="260" width="26.72" height="38.1" fill="#46085c"/>
<rect x="1449.2" y="260" width="79.56" height="38.1" fill="#481a6c"/>
<rect x="1054.1" y="297.8" width="26.72" height="38.1" fill="#471063"/>
<rect x="1079.32" y="297.8" width="53.14" height="38.1" fill="#460b5e"/>
<rect x="1132.16" y="297.8" width="26.72" height="38.1" fill="#46085c"/>
<rect x="1158.58" y="297.8" width="26.72" height="38.1" fill="#450457"/>
<rect x="1185" y="297.8" width="53.14" height="38.1" fill="#460b5e"/>
<rect x="1237.84" y="297.8" width="26.72" height="38.1" fill="#46085c"/>
<rect x="1264.26" y="297.8" width="26.72" height="38.1" fill="#481a6c"/>
<rect x="1290.68" y="297.8" width="53.14" height="38.1" fill="#450457"/>
<rect x="1343.52" y="297.8" width="26.72" height="38.1" fill="#471365"/>
<rect x="1369.94" y="297.8" width="26.72" height="38.1" fill="#450457"/>
<rect x="1396.36" y="297.8" width="26.72" height="38.1" fill="#46085c"/>
<rect x="1422.78" y="297.8" width="53.14" height="38.1" fill="#450457"/>
<rect x="1475.62" y="297.8" width="26.72" height="38.1" fill="#460b5e"/>
<rect x="1502.04" y="297.8" width="26.72" height="38.1" fill="#450457"/>
</g>
<line x1="1055.7" y1="171.84" x2="1528" y2="171.84" stroke="#e41a1c" stroke-width="6.4"/>
<rect x="1054.1" y="34.2" width="475.5" height="377.1" fill="none" stroke="#000" stroke-width="3.2"/>
<line x1="1531" y1="34.2" x2="1546.2" y2="34.2" stroke="#000" stroke-width="3.2"/>
<text x="1561.4" y="44.7" font-size="26">1.0</text>
<line x1="1531" y1="128.48" x2="1546.2" y2="128.48" stroke="#000" stroke-width="3.2"/>
<text x="1561.4" y="139.28" font-size="26">0.5</text>
<line x1="1531" y1="222.75" x2="1546.2" y2="222.75" stroke="#000" stroke-width="3.2"/>
<text x="1561.4" y="234.25" font-size="26">0.0</text>
<line x1="1531" y1="317.03" x2="1546.2" y2="317.03" stroke="#000" stroke-width="3.2"/>
<text x="1561.4" y="328.63" font-size="26">-0.5</text>
<line x1="1531" y1="411.3" x2="1546.2" y2="411.3" stroke="#000" stroke-width="3.2"/>
<text x="1561.4" y="423" font-size="26">-1.0</text>
<text x="1542.1" y="165.24" font-size="26" style="fill:#f01a24;stroke:#f01a24">Mean:</text>
<text x="1542.1" y="191.14" font-size="26" style="fill:#f01a24;stroke:#f01a24">0.27</text>
<g><text transform="translate(1042.5,224.55) rotate(-90)" text-anchor="middle" font-size="27.2">(<tspan font-style="italic">P</tspan><tspan font-style="italic" font-size="19.04" dy="4.7">original</tspan><tspan dy="-4.7"> - </tspan><tspan font-style="italic">P</tspan><tspan font-style="italic" font-size="19.04" dy="4.7">perturb</tspan><tspan dy="-4.7">)/ </tspan><tspan font-style="italic">P</tspan><tspan font-style="italic" font-size="19.04" dy="4.7">original</tspan></text></g>
<rect x="1627.5" y="34.2" width="23" height="377.1" fill="url(#vir)" stroke="#000" stroke-width="3.2"/>
<line x1="1651.9" y1="411.3" x2="1667.1" y2="411.3" stroke="#000" stroke-width="3.2"/>
<text x="1682.8" y="423" font-size="26">0.0</text>
<line x1="1651.9" y1="225.5" x2="1667.1" y2="225.5" stroke="#000" stroke-width="3.2"/>
<text x="1682.8" y="236.5" font-size="26">0.2</text>
<line x1="1651.9" y1="38.4" x2="1667.1" y2="38.4" stroke="#000" stroke-width="3.2"/>
<text x="1682.8" y="49.2" font-size="26">0.4</text>
<text x="1639" y="21.2" font-size="25.8" text-anchor="middle" font-style="italic" letter-spacing="0.65">Ratio</text>
<text x="977.5" y="64.3" font-size="39.5">B.</text>
<g shape-rendering="crispEdges">
<rect x="1054.1" y="446.7" width="475.5" height="378.6" fill="#440154"/>
<rect x="1054.1" y="446.7" width="79.56" height="37.98" fill="#472e7c"/>
<rect x="1132.16" y="446.7" width="26.72" height="37.98" fill="#414487"/>
<rect x="1158.58" y="446.7" width="26.72" height="37.98" fill="#481a6c"/>
<rect x="1185" y="446.7" width="26.72" height="37.98" fill="#46085c"/>
<rect x="1211.42" y="446.7" width="53.14" height="37.98" fill="#463480"/>
<rect x="1264.26" y="446.7" width="26.72" height="37.98" fill="#481d6f"/>
<rect x="1290.68" y="446.7" width="26.72" height="37.98" fill="#3e4989"/>
<rect x="1317.1" y="446.7" width="26.72" height="37.98" fill="#481769"/>
<rect x="1343.52" y="446.7" width="26.72" height="37.98" fill="#46085c"/>
<rect x="1369.94" y="446.7" width="53.14" height="37.98" fill="#482475"/>
<rect x="1422.78" y="446.7" width="26.72" height="37.98" fill="#433e85"/>
<rect x="1449.2" y="446.7" width="26.72" height="37.98" fill="#481a6c"/>
<rect x="1475.62" y="446.7" width="53.14" height="37.98" fill="#481d6f"/>
<rect x="1054.1" y="484.38" width="26.72" height="38.18" fill="#287d8e"/>
<rect x="1079.32" y="484.38" width="26.72" height="38.18" fill="#375a8c"/>
<rect x="1105.74" y="484.38" width="26.72" height="38.18" fill="#21918c"/>
<rect x="1132.16" y="484.38" width="26.72" height="38.18" fill="#23898e"/>
<rect x="1158.58" y="484.38" width="26.72" height="38.18" fill="#355f8d"/>
<rect x="1185" y="484.38" width="26.72" height="38.18" fill="#471365"/>
<rect x="1211.42" y="484.38" width="53.14" height="38.18" fill="#287d8e"/>
<rect x="1264.26" y="484.38" width="26.72" height="38.18" fill="#414487"/>
<rect x="1290.68" y="484.38" width="26.72" height="38.18" fill="#20a386"/>
<rect x="1317.1" y="484.38" width="26.72" height="38.18" fill="#375a8c"/>
<rect x="1343.52" y="484.38" width="26.72" height="38.18" fill="#471365"/>
<rect x="1369.94" y="484.38" width="26.72" height="38.18" fill="#355f8d"/>
<rect x="1396.36" y="484.38" width="26.72" height="38.18" fill="#414487"/>
<rect x="1422.78" y="484.38" width="26.72" height="38.18" fill="#1e9c89"/>
<rect x="1449.2" y="484.38" width="26.72" height="38.18" fill="#2f6c8e"/>
<rect x="1475.62" y="484.38" width="26.72" height="38.18" fill="#2d718e"/>
<rect x="1502.04" y="484.38" width="26.72" height="38.18" fill="#3b528b"/>
<rect x="1054.1" y="522.26" width="26.72" height="38.18" fill="#25848e"/>
<rect x="1079.32" y="522.26" width="53.14" height="38.18" fill="#1e9c89"/>
<rect x="1132.16" y="522.26" width="26.72" height="38.18" fill="#228b8d"/>
<rect x="1158.58" y="522.26" width="26.72" height="38.18" fill="#21918c"/>
<rect x="1185" y="522.26" width="26.72" height="38.18" fill="#443a83"/>
<rect x="1211.42" y="522.26" width="26.72" height="38.18" fill="#1f958b"/>
<rect x="1237.84" y="522.26" width="26.72" height="38.18" fill="#228b8d"/>
<rect x="1264.26" y="522.26" width="26.72" height="38.18" fill="#2c738e"/>
<rect x="1290.68" y="522.26" width="26.72" height="38.18" fill="#22a884"/>
<rect x="1317.1" y="522.26" width="26.72" height="38.18" fill="#25848e"/>
<rect x="1343.52" y="522.26" width="26.72" height="38.18" fill="#463480"/>
<rect x="1369.94" y="522.26" width="26.72" height="38.18" fill="#1e9c89"/>
<rect x="1396.36" y="522.26" width="26.72" height="38.18" fill="#31678e"/>
<rect x="1422.78" y="522.26" width="53.14" height="38.18" fill="#1f958b"/>
<rect x="1475.62" y="522.26" width="26.72" height="38.18" fill="#287d8e"/>
<rect x="1502.04" y="522.26" width="26.72" height="38.18" fill="#2a788e"/>
<rect x="1054.1" y="560.14" width="53.14" height="38.18" fill="#1f958b"/>
<rect x="1105.74" y="560.14" width="26.72" height="38.18" fill="#1f978b"/>
<rect x="1132.16" y="560.14" width="26.72" height="38.18" fill="#1f958b"/>
<rect x="1158.58" y="560.14" width="26.72" height="38.18" fill="#22a884"/>
<rect x="1185" y="560.14" width="26.72" height="38.18" fill="#287d8e"/>
<rect x="1211.42" y="560.14" width="26.72" height="38.18" fill="#22a884"/>
<rect x="1237.84" y="560.14" width="26.72" height="38.18" fill="#1e9c89"/>
<rect x="1264.26" y="560.14" width="26.72" height="38.18" fill="#1fa188"/>
<rect x="1290.68" y="560.14" width="26.72" height="38.18" fill="#1e9c89"/>
<rect x="1317.1" y="560.14" width="26.72" height="38.18" fill="#1fa188"/>
<rect x="1343.52" y="560.14" width="26.72" height="38.18" fill="#2c738e"/>
<rect x="1369.94" y="560.14" width="26.72" height="38.18" fill="#1e9c89"/>
<rect x="1396.36" y="560.14" width="26.72" height="38.18" fill="#21918c"/>
<rect x="1422.78" y="560.14" width="26.72" height="38.18" fill="#25848e"/>
<rect x="1449.2" y="560.14" width="26.72" height="38.18" fill="#22a884"/>
<rect x="1475.62" y="560.14" width="26.72" height="38.18" fill="#26ad81"/>
<rect x="1502.04" y="560.14" width="26.72" height="38.18" fill="#21918c"/>
<rect x="1054.1" y="598.02" width="26.72" height="38.18" fill="#1e9c89"/>
<rect x="1079.32" y="598.02" width="26.72" height="38.18" fill="#21918c"/>
<rect x="1105.74" y="598.02" width="53.14" height="38.18" fill="#287d8e"/>
<rect x="1158.58" y="598.02" width="26.72" height="38.18" fill="#22a884"/>
<rect x="1185" y="598.02" width="26.72" height="38.18" fill="#b0dd2f"/>
<rect x="1211.42" y="598.02" width="53.14" height="38.18" fill="#287d8e"/>
<rect x="1264.26" y="598.02" width="26.72" height="38.18" fill="#2fb47c"/>
<rect x="1290.68" y="598.02" width="26.72" height="38.18" fill="#414487"/>
<rect x="1317.1" y="598.02" width="26.72" height="38.18" fill="#2fb47c"/>
<rect x="1343.52" y="598.02" width="26.72" height="38.18" fill="#fde725"/>
<rect x="1369.94" y="598.02" width="26.72" height="38.18" fill="#1f978b"/>
<rect x="1396.36" y="598.02" width="26.72" height="38.18" fill="#22a884"/>
<rect x="1422.78" y="598.02" width="26.72" height="38.18" fill="#2c738e"/>
<rect x="1449.2" y="598.02" width="26.72" height="38.18" fill="#1e9c89"/>
<rect x="1475.62" y="598.02" width="26.72" height="38.18" fill="#1f958b"/>
<rect x="1502.04" y="598.02" width="26.72" height="38.18" fill="#3bbb75"/>
<rect x="1054.1" y="635.9" width="26.72" height="38.18" fill="#414487"/>
<rect x="1079.32" y="635.9" width="26.72" height="38.18" fill="#3e4989"/>
<rect x="1105.74" y="635.9" width="26.72" height="38.18" fill="#482475"/>
<rect x="1132.16" y="635.9" width="26.72" height="38.18" fill="#443a83"/>
<rect x="1158.58" y="635.9" width="26.72" height="38.18" fill="#414487"/>
<rect x="1185" y="635.9" width="26.72" height="38.18" fill="#1e9c89"/>
<rect x="1211.42" y="635.9" width="26.72" height="38.18" fill="#463480"/>
<rect x="1237.84" y="635.9" width="26.72" height="38.18" fill="#433e85"/>
<rect x="1264.26" y="635.9" width="26.72" height="38.18" fill="#31678e"/>
<rect x="1290.68" y="635.9" width="26.72" height="38.18" fill="#471365"/>
<rect x="1317.1" y="635.9" width="26.72" height="38.18" fill="#3e4989"/>
<rect x="1343.52" y="635.9" width="26.72" height="38.18" fill="#1f958b"/>
<rect x="1369.94" y="635.9" width="26.72" height="38.18" fill="#433e85"/>
<rect x="1396.36" y="635.9" width="26.72" height="38.18" fill="#287d8e"/>
<rect x="1422.78" y="635.9" width="26.72" height="38.18" fill="#472a7a"/>
<rect x="1449.2" y="635.9" width="26.72" height="38.18" fill="#443a83"/>
<rect x="1475.62" y="635.9" width="26.72" height="38.18" fill="#463480"/>
<rect x="1502.04" y="635.9" width="26.72" height="38.18" fill="#355f8d"/>
<rect x="1054.1" y="673.78" width="26.72" height="38.18" fill="#481769"/>
<rect x="1079.32" y="673.78" width="26.72" height="38.18" fill="#481d6f"/>
<rect x="1105.74" y="673.78" width="26.72" height="38.18" fill="#46085c"/>
<rect x="1132.16" y="673.78" width="26.72" height="38.18" fill="#481a6c"/>
<rect x="1158.58" y="673.78" width="26.72" height="38.18" fill="#471063"/>
<rect x="1185" y="673.78" width="26.72" height="38.18" fill="#463480"/>
<rect x="1211.42" y="673.78" width="26.72" height="38.18" fill="#471063"/>
<rect x="1237.84" y="673.78" width="53.14" height="38.18" fill="#481769"/>
<rect x="1290.68" y="673.78" width="26.72" height="38.18" fill="#46085c"/>
<rect x="1317.1" y="673.78" width="26.72" height="38.18" fill="#481769"/>
<rect x="1343.52" y="673.78" width="26.72" height="38.18" fill="#472e7c"/>
<rect x="1369.94" y="673.78" width="26.72" height="38.18" fill="#481769"/>
<rect x="1396.36" y="673.78" width="26.72" height="38.18" fill="#482878"/>
<rect x="1422.78" y="673.78" width="53.14" height="38.18" fill="#471063"/>
<rect x="1475.62" y="673.78" width="26.72" height="38.18" fill="#471365"/>
<rect x="1502.04" y="673.78" width="26.72" height="38.18" fill="#481769"/>
<rect x="1054.1" y="711.66" width="53.14" height="38.18" fill="#450457"/>
<rect x="1132.16" y="711.66" width="26.72" height="38.18" fill="#450457"/>
<rect x="1158.58" y="711.66" width="26.72" height="38.18" fill="#46085c"/>
<rect x="1185" y="711.66" width="26.72" height="38.18" fill="#460b5e"/>
<rect x="1211.42" y="711.66" width="79.56" height="38.18" fill="#450457"/>
<rect x="1317.1" y="711.66" width="26.72" height="38.18" fill="#450457"/>
<rect x="1343.52" y="711.66" width="26.72" height="38.18" fill="#460b5e"/>
<rect x="1369.94" y="711.66" width="26.72" height="38.18" fill="#450457"/>
<rect x="1396.36" y="711.66" width="26.72" height="38.18" fill="#460b5e"/>
<rect x="1422.78" y="711.66" width="53.14" height="38.18" fill="#450457"/>
<rect x="1475.62" y="711.66" width="26.72" height="38.18" fill="#46085c"/>
<rect x="1502.04" y="711.66" width="26.72" height="38.18" fill="#450457"/>
</g>
<line x1="1055.7" y1="574.12" x2="1528" y2="574.12" stroke="#e41a1c" stroke-width="6.4"/>
<rect x="1054.1" y="446.7" width="475.5" height="378.6" fill="none" stroke="#000" stroke-width="3.2"/>
<line x1="1531" y1="446.7" x2="1546.2" y2="446.7" stroke="#000" stroke-width="3.2"/>
<text x="1561.4" y="457" font-size="26">1.0</text>
<line x1="1531" y1="541.35" x2="1546.2" y2="541.35" stroke="#000" stroke-width="3.2"/>
<text x="1561.4" y="551.65" font-size="26">0.5</text>
<line x1="1531" y1="636" x2="1546.2" y2="636" stroke="#000" stroke-width="3.2"/>
<text x="1561.4" y="646.3" font-size="26">0.0</text>
<line x1="1531" y1="730.65" x2="1546.2" y2="730.65" stroke="#000" stroke-width="3.2"/>
<text x="1561.4" y="740.95" font-size="26">-0.5</text>
<line x1="1531" y1="825.3" x2="1546.2" y2="825.3" stroke="#000" stroke-width="3.2"/>
<text x="1561.4" y="835.6" font-size="26">-1.0</text>
<text x="1542.1" y="571.92" font-size="26" style="fill:#f01a24;stroke:#f01a24">Mean:</text>
<text x="1542.1" y="599.02" font-size="26" style="fill:#f01a24;stroke:#f01a24">0.32</text>
<g clip-path="url(#clipD)"><text transform="translate(1042.5,637.8) rotate(-90)" text-anchor="middle" font-size="27.2">(<tspan font-style="italic">P</tspan><tspan font-style="italic" font-size="19.04" dy="4.7">original</tspan><tspan dy="-4.7"> - </tspan><tspan font-style="italic">P</tspan><tspan font-style="italic" font-size="19.04" dy="4.7">perturb</tspan><tspan dy="-4.7">)/ </tspan><tspan font-style="italic">P</tspan><tspan font-style="italic" font-size="19.04" dy="4.7">original</tspan></text></g>
<rect x="1627.5" y="446.7" width="23" height="378.6" fill="url(#vir)" stroke="#000" stroke-width="3.2"/>
<line x1="1651.9" y1="825.3" x2="1667.1" y2="825.3" stroke="#000" stroke-width="3.2"/>
<text x="1682.8" y="835.8" font-size="26">0.0</text>
<line x1="1651.9" y1="652.6" x2="1667.1" y2="652.6" stroke="#000" stroke-width="3.2"/>
<text x="1682.8" y="664.2" font-size="26">0.2</text>
<line x1="1651.9" y1="479.2" x2="1667.1" y2="479.2" stroke="#000" stroke-width="3.2"/>
<text x="1682.8" y="491.1" font-size="26">0.4</text>
<text x="978.3" y="476.8" font-size="39.5">D.</text>
<line x1="1066.41" y1="826.7" x2="1066.41" y2="841.9" stroke="#000" stroke-width="3.2"/>
<text transform="translate(1074.91,860) rotate(-90)" text-anchor="end" font-size="26">1</text>
<line x1="1092.83" y1="826.7" x2="1092.83" y2="841.9" stroke="#000" stroke-width="3.2"/>
<text transform="translate(1101.33,860) rotate(-90)" text-anchor="end" font-size="26">2</text>
<line x1="1119.25" y1="826.7" x2="1119.25" y2="841.9" stroke="#000" stroke-width="3.2"/>
<text transform="translate(1127.75,860) rotate(-90)" text-anchor="end" font-size="26">3</text>
<line x1="1145.67" y1="826.7" x2="1145.67" y2="841.9" stroke="#000" stroke-width="3.2"/>
<text transform="translate(1154.17,860) rotate(-90)" text-anchor="end" font-size="26">4</text>
<line x1="1172.09" y1="826.7" x2="1172.09" y2="841.9" stroke="#000" stroke-width="3.2"/>
<text transform="translate(1180.59,860) rotate(-90)" text-anchor="end" font-size="26">5</text>
<line x1="1198.51" y1="826.7" x2="1198.51" y2="841.9" stroke="#000" stroke-width="3.2"/>
<text transform="translate(1207.01,860) rotate(-90)" text-anchor="end" font-size="26">6</text>
<line x1="1224.93" y1="826.7" x2="1224.93" y2="841.9" stroke="#000" stroke-width="3.2"/>
<text transform="translate(1233.43,860) rotate(-90)" text-anchor="end" font-size="26">7</text>
<line x1="1251.35" y1="826.7" x2="1251.35" y2="841.9" stroke="#000" stroke-width="3.2"/>
<text transform="translate(1259.85,860) rotate(-90)" text-anchor="end" font-size="26">8</text>
<line x1="1277.77" y1="826.7" x2="1277.77" y2="841.9" stroke="#000" stroke-width="3.2"/>
<text transform="translate(1286.27,860) rotate(-90)" text-anchor="end" font-size="26">9</text>
<line x1="1304.19" y1="826.7" x2="1304.19" y2="841.9" stroke="#000" stroke-width="3.2"/>
<text transform="translate(1312.69,860) rotate(-90)" text-anchor="end" font-size="26">11</text>
<line x1="1330.61" y1="826.7" x2="1330.61" y2="841.9" stroke="#000" stroke-width="3.2"/>
<text transform="translate(1339.11,860) rotate(-90)" text-anchor="end" font-size="26">12</text>
<line x1="1357.03" y1="826.7" x2="1357.03" y2="841.9" stroke="#000" stroke-width="3.2"/>
<text transform="translate(1365.53,860) rotate(-90)" text-anchor="end" font-size="26">13</text>
<line x1="1383.45" y1="826.7" x2="1383.45" y2="841.9" stroke="#000" stroke-width="3.2"/>
<text transform="translate(1391.95,860) rotate(-90)" text-anchor="end" font-size="26">14</text>
<line x1="1409.87" y1="826.7" x2="1409.87" y2="841.9" stroke="#000" stroke-width="3.2"/>
<text transform="translate(1418.37,860) rotate(-90)" text-anchor="end" font-size="26">15</text>
<line x1="1436.29" y1="826.7" x2="1436.29" y2="841.9" stroke="#000" stroke-width="3.2"/>
<text transform="translate(1444.79,860) rotate(-90)" text-anchor="end" font-size="26">16</text>
<line x1="1462.71" y1="826.7" x2="1462.71" y2="841.9" stroke="#000" stroke-width="3.2"/>
<text transform="translate(1471.21,860) rotate(-90)" text-anchor="end" font-size="26">17</text>
<line x1="1489.13" y1="826.7" x2="1489.13" y2="841.9" stroke="#000" stroke-width="3.2"/>
<text transform="translate(1497.63,860) rotate(-90)" text-anchor="end" font-size="26">18</text>
<line x1="1515.55" y1="826.7" x2="1515.55" y2="841.9" stroke="#000" stroke-width="3.2"/>
<text transform="translate(1524.05,860) rotate(-90)" text-anchor="end" font-size="26">19</text>
<text x="1290.35" y="930.7" font-size="27" text-anchor="middle">Patient Number</text>
</g>
</svg>
</body>
</html>
